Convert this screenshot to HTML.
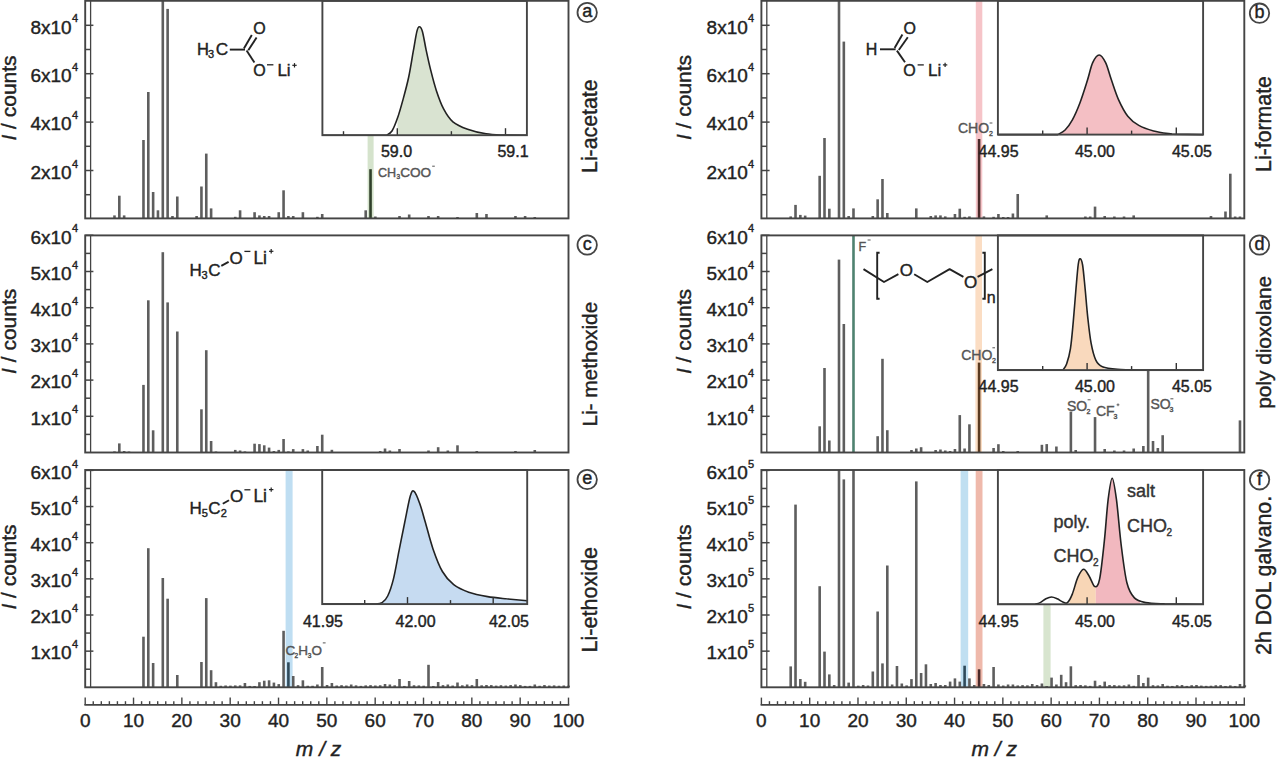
<!DOCTYPE html>
<html><head><meta charset="utf-8"><style>
html,body{margin:0;padding:0;background:#fff;overflow:hidden;}
svg{display:block;}
</style></head><body>
<svg width="1280" height="759" viewBox="0 0 1280 759" font-family="'Liberation Sans', sans-serif">
<g stroke-linecap="butt"><style>text{stroke:currentColor;stroke-width:0.4;paint-order:stroke}</style>
<rect x="0" y="0" width="1280" height="759" fill="#fff"/>
<rect x="367.6" y="0.8" width="6" height="217.6" fill="#d5e3cc"/>
<rect x="975.8" y="0.8" width="6.5" height="217.6" fill="#f6c4c8"/>
<rect x="975.4" y="235.4" width="6.6" height="217.1" fill="#fbddc3"/>
<rect x="285.6" y="470" width="7" height="217.3" fill="#bfdef2"/>
<rect x="960.6" y="470" width="7.6" height="217.3" fill="#c0dff1"/>
<rect x="975.7" y="470" width="6.8" height="217.3" fill="#efb9ab"/>
<rect x="1043.4" y="470" width="7.2" height="217.3" fill="#d8e5cf"/>
<rect x="113.19" y="215.4" width="2.6" height="3" fill="#5e5e5e"/>
<rect x="118.02" y="195.7" width="2.6" height="22.7" fill="#5e5e5e"/>
<rect x="122.85" y="215.4" width="2.6" height="3" fill="#5e5e5e"/>
<rect x="142.17" y="140" width="2.6" height="78.4" fill="#5e5e5e"/>
<rect x="147" y="92" width="2.6" height="126.4" fill="#5e5e5e"/>
<rect x="151.83" y="192" width="2.6" height="26.4" fill="#5e5e5e"/>
<rect x="156.66" y="210.3" width="2.6" height="8.1" fill="#5e5e5e"/>
<rect x="161.5" y="0.8" width="2.6" height="217.6" fill="#5e5e5e"/>
<rect x="166.33" y="8.9" width="2.6" height="209.5" fill="#5e5e5e"/>
<rect x="171.16" y="216" width="2.6" height="2.4" fill="#5e5e5e"/>
<rect x="175.99" y="196.5" width="2.6" height="21.9" fill="#5e5e5e"/>
<rect x="195.31" y="216" width="2.6" height="2.4" fill="#5e5e5e"/>
<rect x="200.14" y="186.5" width="2.6" height="31.9" fill="#5e5e5e"/>
<rect x="204.97" y="153.6" width="2.6" height="64.8" fill="#5e5e5e"/>
<rect x="209.81" y="208.4" width="2.6" height="10" fill="#5e5e5e"/>
<rect x="233.96" y="216.8" width="2.6" height="1.6" fill="#5e5e5e"/>
<rect x="238.79" y="210.3" width="2.6" height="8.1" fill="#5e5e5e"/>
<rect x="253.28" y="212.2" width="2.6" height="6.2" fill="#5e5e5e"/>
<rect x="258.12" y="215.4" width="2.6" height="3" fill="#5e5e5e"/>
<rect x="262.95" y="216" width="2.6" height="2.4" fill="#5e5e5e"/>
<rect x="267.78" y="216" width="2.6" height="2.4" fill="#5e5e5e"/>
<rect x="277.44" y="212.2" width="2.6" height="6.2" fill="#5e5e5e"/>
<rect x="282.27" y="190.3" width="2.6" height="28.1" fill="#5e5e5e"/>
<rect x="287.1" y="216" width="2.6" height="2.4" fill="#5e5e5e"/>
<rect x="291.93" y="216" width="2.6" height="2.4" fill="#5e5e5e"/>
<rect x="301.59" y="212.2" width="2.6" height="6.2" fill="#5e5e5e"/>
<rect x="316.09" y="216.8" width="2.6" height="1.6" fill="#5e5e5e"/>
<rect x="320.92" y="214" width="2.6" height="4.4" fill="#5e5e5e"/>
<rect x="364.4" y="210.3" width="2.6" height="8.1" fill="#5e5e5e"/>
<rect x="369.23" y="169.2" width="2.6" height="49.2" fill="#2f3f2a"/>
<rect x="374.06" y="216.5" width="2.6" height="1.9" fill="#5e5e5e"/>
<rect x="398.22" y="216" width="2.6" height="2.4" fill="#5e5e5e"/>
<rect x="407.88" y="214.5" width="2.6" height="3.9" fill="#5e5e5e"/>
<rect x="427.2" y="216" width="2.6" height="2.4" fill="#5e5e5e"/>
<rect x="436.86" y="216" width="2.6" height="2.4" fill="#5e5e5e"/>
<rect x="456.19" y="217" width="2.6" height="1.4" fill="#5e5e5e"/>
<rect x="475.51" y="213" width="2.6" height="5.4" fill="#5e5e5e"/>
<rect x="485.17" y="214" width="2.6" height="4.4" fill="#5e5e5e"/>
<rect x="514.16" y="216" width="2.6" height="2.4" fill="#5e5e5e"/>
<rect x="523.82" y="216" width="2.6" height="2.4" fill="#5e5e5e"/>
<rect x="533.48" y="217" width="2.6" height="1.4" fill="#5e5e5e"/>
<rect x="789.39" y="216.4" width="2.6" height="2" fill="#5e5e5e"/>
<rect x="794.22" y="204.9" width="2.6" height="13.5" fill="#5e5e5e"/>
<rect x="799.05" y="214.9" width="2.6" height="3.5" fill="#5e5e5e"/>
<rect x="803.88" y="215.6" width="2.6" height="2.8" fill="#5e5e5e"/>
<rect x="818.37" y="175.8" width="2.6" height="42.6" fill="#5e5e5e"/>
<rect x="823.2" y="138" width="2.6" height="80.4" fill="#5e5e5e"/>
<rect x="828.03" y="208.7" width="2.6" height="9.7" fill="#5e5e5e"/>
<rect x="837.7" y="0.8" width="2.6" height="217.6" fill="#5e5e5e"/>
<rect x="842.53" y="41.6" width="2.6" height="176.8" fill="#5e5e5e"/>
<rect x="847.36" y="216" width="2.6" height="2.4" fill="#5e5e5e"/>
<rect x="852.19" y="208.4" width="2.6" height="10" fill="#5e5e5e"/>
<rect x="871.51" y="216" width="2.6" height="2.4" fill="#5e5e5e"/>
<rect x="876.34" y="199.3" width="2.6" height="19.1" fill="#5e5e5e"/>
<rect x="881.17" y="179" width="2.6" height="39.4" fill="#5e5e5e"/>
<rect x="886.01" y="213" width="2.6" height="5.4" fill="#5e5e5e"/>
<rect x="914.99" y="208.4" width="2.6" height="10" fill="#5e5e5e"/>
<rect x="929.49" y="216" width="2.6" height="2.4" fill="#5e5e5e"/>
<rect x="934.32" y="215.4" width="2.6" height="3" fill="#5e5e5e"/>
<rect x="939.15" y="215.4" width="2.6" height="3" fill="#5e5e5e"/>
<rect x="943.98" y="216.4" width="2.6" height="2" fill="#5e5e5e"/>
<rect x="953.64" y="214" width="2.6" height="4.4" fill="#5e5e5e"/>
<rect x="958.47" y="208.7" width="2.6" height="9.7" fill="#5e5e5e"/>
<rect x="963.3" y="216.8" width="2.6" height="1.6" fill="#5e5e5e"/>
<rect x="968.13" y="216.4" width="2.6" height="2" fill="#5e5e5e"/>
<rect x="977.79" y="139" width="2.6" height="79.4" fill="#4a2a2a"/>
<rect x="982.63" y="216.4" width="2.6" height="2" fill="#5e5e5e"/>
<rect x="992.29" y="216.8" width="2.6" height="1.6" fill="#5e5e5e"/>
<rect x="997.12" y="214" width="2.6" height="4.4" fill="#5e5e5e"/>
<rect x="1001.95" y="217" width="2.6" height="1.4" fill="#5e5e5e"/>
<rect x="1006.78" y="217" width="2.6" height="1.4" fill="#5e5e5e"/>
<rect x="1011.61" y="213.5" width="2.6" height="4.9" fill="#5e5e5e"/>
<rect x="1016.44" y="194" width="2.6" height="24.4" fill="#5e5e5e"/>
<rect x="1045.43" y="215.4" width="2.6" height="3" fill="#5e5e5e"/>
<rect x="1084.08" y="216.5" width="2.6" height="1.9" fill="#5e5e5e"/>
<rect x="1088.91" y="216.5" width="2.6" height="1.9" fill="#5e5e5e"/>
<rect x="1093.74" y="206.6" width="2.6" height="11.8" fill="#5e5e5e"/>
<rect x="1103.4" y="216" width="2.6" height="2.4" fill="#5e5e5e"/>
<rect x="1113.06" y="216.5" width="2.6" height="1.9" fill="#5e5e5e"/>
<rect x="1122.73" y="216.5" width="2.6" height="1.9" fill="#5e5e5e"/>
<rect x="1132.39" y="215.4" width="2.6" height="3" fill="#5e5e5e"/>
<rect x="1209.68" y="216" width="2.6" height="2.4" fill="#5e5e5e"/>
<rect x="1224.18" y="211.5" width="2.6" height="6.9" fill="#5e5e5e"/>
<rect x="1229.01" y="173.7" width="2.6" height="44.7" fill="#5e5e5e"/>
<rect x="1233.84" y="216.5" width="2.6" height="1.9" fill="#5e5e5e"/>
<rect x="1238.67" y="216.5" width="2.6" height="1.9" fill="#5e5e5e"/>
<rect x="113.19" y="451.4" width="2.6" height="1.1" fill="#5e5e5e"/>
<rect x="118.02" y="443.4" width="2.6" height="9.1" fill="#5e5e5e"/>
<rect x="122.85" y="451" width="2.6" height="1.5" fill="#5e5e5e"/>
<rect x="127.68" y="451.5" width="2.6" height="1" fill="#5e5e5e"/>
<rect x="142.17" y="384.9" width="2.6" height="67.6" fill="#5e5e5e"/>
<rect x="147" y="300.3" width="2.6" height="152.2" fill="#5e5e5e"/>
<rect x="151.83" y="430.3" width="2.6" height="22.2" fill="#5e5e5e"/>
<rect x="161.5" y="252.2" width="2.6" height="200.3" fill="#5e5e5e"/>
<rect x="166.33" y="302.4" width="2.6" height="150.1" fill="#5e5e5e"/>
<rect x="175.99" y="331.5" width="2.6" height="121" fill="#5e5e5e"/>
<rect x="200.14" y="409.3" width="2.6" height="43.2" fill="#5e5e5e"/>
<rect x="204.97" y="350.2" width="2.6" height="102.3" fill="#5e5e5e"/>
<rect x="209.81" y="441" width="2.6" height="11.5" fill="#5e5e5e"/>
<rect x="214.64" y="451.5" width="2.6" height="1" fill="#5e5e5e"/>
<rect x="233.96" y="449.9" width="2.6" height="2.6" fill="#5e5e5e"/>
<rect x="238.79" y="450.5" width="2.6" height="2" fill="#5e5e5e"/>
<rect x="243.62" y="451.4" width="2.6" height="1.1" fill="#5e5e5e"/>
<rect x="253.28" y="443.7" width="2.6" height="8.8" fill="#5e5e5e"/>
<rect x="258.12" y="444.1" width="2.6" height="8.4" fill="#5e5e5e"/>
<rect x="262.95" y="445.3" width="2.6" height="7.2" fill="#5e5e5e"/>
<rect x="267.78" y="447.6" width="2.6" height="4.9" fill="#5e5e5e"/>
<rect x="272.61" y="451" width="2.6" height="1.5" fill="#5e5e5e"/>
<rect x="277.44" y="449.9" width="2.6" height="2.6" fill="#5e5e5e"/>
<rect x="282.27" y="439" width="2.6" height="13.5" fill="#5e5e5e"/>
<rect x="287.1" y="451.4" width="2.6" height="1.1" fill="#5e5e5e"/>
<rect x="291.93" y="449.1" width="2.6" height="3.4" fill="#5e5e5e"/>
<rect x="301.59" y="449.1" width="2.6" height="3.4" fill="#5e5e5e"/>
<rect x="306.43" y="450.5" width="2.6" height="2" fill="#5e5e5e"/>
<rect x="316.09" y="446" width="2.6" height="6.5" fill="#5e5e5e"/>
<rect x="320.92" y="434.7" width="2.6" height="17.8" fill="#5e5e5e"/>
<rect x="330.58" y="449.8" width="2.6" height="2.7" fill="#5e5e5e"/>
<rect x="378.89" y="451" width="2.6" height="1.5" fill="#5e5e5e"/>
<rect x="383.72" y="448.5" width="2.6" height="4" fill="#5e5e5e"/>
<rect x="388.55" y="450.5" width="2.6" height="2" fill="#5e5e5e"/>
<rect x="398.22" y="449" width="2.6" height="3.5" fill="#5e5e5e"/>
<rect x="427.2" y="450.5" width="2.6" height="2" fill="#5e5e5e"/>
<rect x="436.86" y="447.2" width="2.6" height="5.3" fill="#5e5e5e"/>
<rect x="446.53" y="450.5" width="2.6" height="2" fill="#5e5e5e"/>
<rect x="456.19" y="445.3" width="2.6" height="7.2" fill="#5e5e5e"/>
<rect x="475.51" y="451" width="2.6" height="1.5" fill="#5e5e5e"/>
<rect x="514.16" y="451" width="2.6" height="1.5" fill="#5e5e5e"/>
<rect x="533.48" y="450" width="2.6" height="2.5" fill="#5e5e5e"/>
<rect x="818.37" y="426.3" width="2.6" height="26.2" fill="#5e5e5e"/>
<rect x="823.2" y="368" width="2.6" height="84.5" fill="#5e5e5e"/>
<rect x="828.03" y="440.5" width="2.6" height="12" fill="#5e5e5e"/>
<rect x="837.7" y="259.6" width="2.6" height="192.9" fill="#5e5e5e"/>
<rect x="842.53" y="324" width="2.6" height="128.5" fill="#5e5e5e"/>
<rect x="852.19" y="235.4" width="2.6" height="217.1" fill="#4f8270"/>
<rect x="876.34" y="436.2" width="2.6" height="16.3" fill="#5e5e5e"/>
<rect x="881.17" y="358.8" width="2.6" height="93.7" fill="#5e5e5e"/>
<rect x="886.01" y="430.2" width="2.6" height="22.3" fill="#5e5e5e"/>
<rect x="910.16" y="450" width="2.6" height="2.5" fill="#5e5e5e"/>
<rect x="914.99" y="448.5" width="2.6" height="4" fill="#5e5e5e"/>
<rect x="919.82" y="447.2" width="2.6" height="5.3" fill="#5e5e5e"/>
<rect x="934.32" y="450" width="2.6" height="2.5" fill="#5e5e5e"/>
<rect x="939.15" y="449.5" width="2.6" height="3" fill="#5e5e5e"/>
<rect x="943.98" y="450.5" width="2.6" height="2" fill="#5e5e5e"/>
<rect x="948.81" y="451" width="2.6" height="1.5" fill="#5e5e5e"/>
<rect x="953.64" y="449" width="2.6" height="3.5" fill="#5e5e5e"/>
<rect x="958.47" y="415.1" width="2.6" height="37.4" fill="#5e5e5e"/>
<rect x="963.3" y="448.5" width="2.6" height="4" fill="#5e5e5e"/>
<rect x="968.13" y="424.3" width="2.6" height="28.2" fill="#5e5e5e"/>
<rect x="977.79" y="362.6" width="2.6" height="89.9" fill="#5a3a20"/>
<rect x="992.29" y="448" width="2.6" height="4.5" fill="#5e5e5e"/>
<rect x="997.12" y="444.2" width="2.6" height="8.3" fill="#5e5e5e"/>
<rect x="1001.95" y="451" width="2.6" height="1.5" fill="#5e5e5e"/>
<rect x="1016.44" y="451" width="2.6" height="1.5" fill="#5e5e5e"/>
<rect x="1040.6" y="444.8" width="2.6" height="7.7" fill="#5e5e5e"/>
<rect x="1045.43" y="444.1" width="2.6" height="8.4" fill="#5e5e5e"/>
<rect x="1055.09" y="446.5" width="2.6" height="6" fill="#5e5e5e"/>
<rect x="1069.58" y="411.6" width="2.6" height="40.9" fill="#5e5e5e"/>
<rect x="1074.41" y="450" width="2.6" height="2.5" fill="#5e5e5e"/>
<rect x="1093.74" y="417.1" width="2.6" height="35.4" fill="#5e5e5e"/>
<rect x="1103.4" y="449" width="2.6" height="3.5" fill="#5e5e5e"/>
<rect x="1113.06" y="450.5" width="2.6" height="2" fill="#5e5e5e"/>
<rect x="1122.73" y="450.5" width="2.6" height="2" fill="#5e5e5e"/>
<rect x="1132.39" y="448.5" width="2.6" height="4" fill="#5e5e5e"/>
<rect x="1142.05" y="446" width="2.6" height="6.5" fill="#5e5e5e"/>
<rect x="1146.88" y="235.4" width="2.6" height="217.1" fill="#5e5e5e"/>
<rect x="1151.71" y="441" width="2.6" height="11.5" fill="#5e5e5e"/>
<rect x="1156.54" y="448" width="2.6" height="4.5" fill="#5e5e5e"/>
<rect x="1161.37" y="435.2" width="2.6" height="17.3" fill="#5e5e5e"/>
<rect x="1238.67" y="420.4" width="2.6" height="32.1" fill="#5e5e5e"/>
<rect x="142.17" y="636.7" width="2.6" height="50.6" fill="#5e5e5e"/>
<rect x="147" y="548.2" width="2.6" height="139.1" fill="#5e5e5e"/>
<rect x="151.83" y="663" width="2.6" height="24.3" fill="#5e5e5e"/>
<rect x="161.5" y="578" width="2.6" height="109.3" fill="#5e5e5e"/>
<rect x="166.33" y="598.7" width="2.6" height="88.6" fill="#5e5e5e"/>
<rect x="175.99" y="675" width="2.6" height="12.3" fill="#5e5e5e"/>
<rect x="200.14" y="662" width="2.6" height="25.3" fill="#5e5e5e"/>
<rect x="204.97" y="598.1" width="2.6" height="89.2" fill="#5e5e5e"/>
<rect x="209.81" y="670.2" width="2.6" height="17.1" fill="#5e5e5e"/>
<rect x="214.64" y="682.2" width="2.6" height="5.1" fill="#5e5e5e"/>
<rect x="243.62" y="683" width="2.6" height="4.3" fill="#5e5e5e"/>
<rect x="258.12" y="682.2" width="2.6" height="5.1" fill="#5e5e5e"/>
<rect x="262.95" y="680.7" width="2.6" height="6.6" fill="#5e5e5e"/>
<rect x="267.78" y="680.3" width="2.6" height="7" fill="#5e5e5e"/>
<rect x="272.61" y="682.6" width="2.6" height="4.7" fill="#5e5e5e"/>
<rect x="277.44" y="684.1" width="2.6" height="3.2" fill="#5e5e5e"/>
<rect x="282.27" y="630.8" width="2.6" height="56.5" fill="#5e5e5e"/>
<rect x="287.1" y="662.3" width="2.6" height="25" fill="#2f4a5a"/>
<rect x="291.93" y="676" width="2.6" height="11.3" fill="#5e5e5e"/>
<rect x="301.59" y="680.3" width="2.6" height="7" fill="#5e5e5e"/>
<rect x="316.09" y="684.5" width="2.6" height="2.8" fill="#5e5e5e"/>
<rect x="320.92" y="667" width="2.6" height="20.3" fill="#5e5e5e"/>
<rect x="330.58" y="683" width="2.6" height="4.3" fill="#5e5e5e"/>
<rect x="349.91" y="684.5" width="2.6" height="2.8" fill="#5e5e5e"/>
<rect x="383.72" y="684" width="2.6" height="3.3" fill="#5e5e5e"/>
<rect x="388.55" y="684.5" width="2.6" height="2.8" fill="#5e5e5e"/>
<rect x="398.22" y="679" width="2.6" height="8.3" fill="#5e5e5e"/>
<rect x="407.88" y="681" width="2.6" height="6.3" fill="#5e5e5e"/>
<rect x="427.2" y="664.8" width="2.6" height="22.5" fill="#5e5e5e"/>
<rect x="436.86" y="682" width="2.6" height="5.3" fill="#5e5e5e"/>
<rect x="446.53" y="684.5" width="2.6" height="2.8" fill="#5e5e5e"/>
<rect x="456.19" y="682.5" width="2.6" height="4.8" fill="#5e5e5e"/>
<rect x="465.85" y="684.5" width="2.6" height="2.8" fill="#5e5e5e"/>
<rect x="475.51" y="679" width="2.6" height="8.3" fill="#5e5e5e"/>
<rect x="485.17" y="685" width="2.6" height="2.3" fill="#5e5e5e"/>
<rect x="514.16" y="684.5" width="2.6" height="2.8" fill="#5e5e5e"/>
<rect x="533.48" y="684.5" width="2.6" height="2.8" fill="#5e5e5e"/>
<rect x="219.47" y="685.76" width="2.6" height="1.54" fill="#5e5e5e"/>
<rect x="224.3" y="685.46" width="2.6" height="1.84" fill="#5e5e5e"/>
<rect x="229.13" y="685.63" width="2.6" height="1.67" fill="#5e5e5e"/>
<rect x="233.96" y="685.4" width="2.6" height="1.9" fill="#5e5e5e"/>
<rect x="238.79" y="685.37" width="2.6" height="1.93" fill="#5e5e5e"/>
<rect x="248.45" y="685.93" width="2.6" height="1.37" fill="#5e5e5e"/>
<rect x="253.28" y="685.99" width="2.6" height="1.31" fill="#5e5e5e"/>
<rect x="296.76" y="685.16" width="2.6" height="2.14" fill="#5e5e5e"/>
<rect x="306.43" y="685.74" width="2.6" height="1.56" fill="#5e5e5e"/>
<rect x="311.26" y="685.77" width="2.6" height="1.53" fill="#5e5e5e"/>
<rect x="325.75" y="685" width="2.6" height="2.3" fill="#5e5e5e"/>
<rect x="335.41" y="685.53" width="2.6" height="1.77" fill="#5e5e5e"/>
<rect x="340.24" y="685.16" width="2.6" height="2.14" fill="#5e5e5e"/>
<rect x="345.07" y="685.52" width="2.6" height="1.78" fill="#5e5e5e"/>
<rect x="354.74" y="685.36" width="2.6" height="1.94" fill="#5e5e5e"/>
<rect x="359.57" y="685.85" width="2.6" height="1.45" fill="#5e5e5e"/>
<rect x="364.4" y="685.37" width="2.6" height="1.93" fill="#5e5e5e"/>
<rect x="369.23" y="685.13" width="2.6" height="2.17" fill="#5e5e5e"/>
<rect x="374.06" y="685.48" width="2.6" height="1.82" fill="#5e5e5e"/>
<rect x="378.89" y="685.26" width="2.6" height="2.04" fill="#5e5e5e"/>
<rect x="393.38" y="685.33" width="2.6" height="1.97" fill="#5e5e5e"/>
<rect x="403.05" y="685.94" width="2.6" height="1.36" fill="#5e5e5e"/>
<rect x="412.71" y="685.24" width="2.6" height="2.06" fill="#5e5e5e"/>
<rect x="417.54" y="685.41" width="2.6" height="1.89" fill="#5e5e5e"/>
<rect x="422.37" y="685.7" width="2.6" height="1.6" fill="#5e5e5e"/>
<rect x="432.03" y="685.97" width="2.6" height="1.33" fill="#5e5e5e"/>
<rect x="441.69" y="685.13" width="2.6" height="2.17" fill="#5e5e5e"/>
<rect x="451.36" y="685.53" width="2.6" height="1.77" fill="#5e5e5e"/>
<rect x="461.02" y="685.28" width="2.6" height="2.02" fill="#5e5e5e"/>
<rect x="470.68" y="685.12" width="2.6" height="2.18" fill="#5e5e5e"/>
<rect x="480.34" y="685.29" width="2.6" height="2.01" fill="#5e5e5e"/>
<rect x="490" y="685.08" width="2.6" height="2.22" fill="#5e5e5e"/>
<rect x="494.84" y="685.61" width="2.6" height="1.69" fill="#5e5e5e"/>
<rect x="499.67" y="685.2" width="2.6" height="2.1" fill="#5e5e5e"/>
<rect x="504.5" y="685.56" width="2.6" height="1.74" fill="#5e5e5e"/>
<rect x="509.33" y="685.06" width="2.6" height="2.24" fill="#5e5e5e"/>
<rect x="518.99" y="685.12" width="2.6" height="2.18" fill="#5e5e5e"/>
<rect x="523.82" y="685.9" width="2.6" height="1.4" fill="#5e5e5e"/>
<rect x="528.65" y="685.86" width="2.6" height="1.44" fill="#5e5e5e"/>
<rect x="538.31" y="685.78" width="2.6" height="1.52" fill="#5e5e5e"/>
<rect x="543.15" y="685.03" width="2.6" height="2.27" fill="#5e5e5e"/>
<rect x="547.98" y="685.56" width="2.6" height="1.74" fill="#5e5e5e"/>
<rect x="552.81" y="685.37" width="2.6" height="1.93" fill="#5e5e5e"/>
<rect x="557.64" y="685.7" width="2.6" height="1.6" fill="#5e5e5e"/>
<rect x="562.47" y="685.49" width="2.6" height="1.81" fill="#5e5e5e"/>
<rect x="567.3" y="685.61" width="2.6" height="1.69" fill="#5e5e5e"/>
<rect x="789.39" y="666.4" width="2.6" height="20.9" fill="#5e5e5e"/>
<rect x="794.22" y="504.6" width="2.6" height="182.7" fill="#5e5e5e"/>
<rect x="799.05" y="679" width="2.6" height="8.3" fill="#5e5e5e"/>
<rect x="803.88" y="681.8" width="2.6" height="5.5" fill="#5e5e5e"/>
<rect x="818.37" y="586.2" width="2.6" height="101.1" fill="#5e5e5e"/>
<rect x="823.2" y="651.6" width="2.6" height="35.7" fill="#5e5e5e"/>
<rect x="828.03" y="674.4" width="2.6" height="12.9" fill="#5e5e5e"/>
<rect x="832.87" y="685" width="2.6" height="2.3" fill="#5e5e5e"/>
<rect x="837.7" y="470" width="2.6" height="217.3" fill="#5e5e5e"/>
<rect x="842.53" y="479.4" width="2.6" height="207.9" fill="#5e5e5e"/>
<rect x="847.36" y="682.6" width="2.6" height="4.7" fill="#5e5e5e"/>
<rect x="852.19" y="470" width="2.6" height="217.3" fill="#5e5e5e"/>
<rect x="861.85" y="685" width="2.6" height="2.3" fill="#5e5e5e"/>
<rect x="866.68" y="685.5" width="2.6" height="1.8" fill="#5e5e5e"/>
<rect x="871.51" y="671.5" width="2.6" height="15.8" fill="#5e5e5e"/>
<rect x="876.34" y="611.5" width="2.6" height="75.8" fill="#5e5e5e"/>
<rect x="881.17" y="663.4" width="2.6" height="23.9" fill="#5e5e5e"/>
<rect x="886.01" y="565.5" width="2.6" height="121.8" fill="#5e5e5e"/>
<rect x="890.84" y="684.5" width="2.6" height="2.8" fill="#5e5e5e"/>
<rect x="895.67" y="666" width="2.6" height="21.3" fill="#5e5e5e"/>
<rect x="900.5" y="683.5" width="2.6" height="3.8" fill="#5e5e5e"/>
<rect x="910.16" y="679.1" width="2.6" height="8.2" fill="#5e5e5e"/>
<rect x="914.99" y="481.4" width="2.6" height="205.9" fill="#5e5e5e"/>
<rect x="919.82" y="673" width="2.6" height="14.3" fill="#5e5e5e"/>
<rect x="924.65" y="664.3" width="2.6" height="23" fill="#5e5e5e"/>
<rect x="929.49" y="684" width="2.6" height="3.3" fill="#5e5e5e"/>
<rect x="934.32" y="683" width="2.6" height="4.3" fill="#5e5e5e"/>
<rect x="939.15" y="685" width="2.6" height="2.3" fill="#5e5e5e"/>
<rect x="943.98" y="685" width="2.6" height="2.3" fill="#5e5e5e"/>
<rect x="948.81" y="681.6" width="2.6" height="5.7" fill="#5e5e5e"/>
<rect x="953.64" y="678.4" width="2.6" height="8.9" fill="#5e5e5e"/>
<rect x="958.47" y="681.6" width="2.6" height="5.7" fill="#5e5e5e"/>
<rect x="963.3" y="665.7" width="2.6" height="21.6" fill="#2f4a5a"/>
<rect x="968.13" y="678.4" width="2.6" height="8.9" fill="#5e5e5e"/>
<rect x="972.96" y="685" width="2.6" height="2.3" fill="#5e5e5e"/>
<rect x="977.79" y="669.3" width="2.6" height="18" fill="#4a2a2a"/>
<rect x="982.63" y="684" width="2.6" height="3.3" fill="#5e5e5e"/>
<rect x="987.46" y="685" width="2.6" height="2.3" fill="#5e5e5e"/>
<rect x="992.29" y="667" width="2.6" height="20.3" fill="#5e5e5e"/>
<rect x="997.12" y="684.5" width="2.6" height="2.8" fill="#5e5e5e"/>
<rect x="1001.95" y="685.5" width="2.6" height="1.8" fill="#5e5e5e"/>
<rect x="1006.78" y="684.5" width="2.6" height="2.8" fill="#5e5e5e"/>
<rect x="1011.61" y="684.5" width="2.6" height="2.8" fill="#5e5e5e"/>
<rect x="1030.94" y="684" width="2.6" height="3.3" fill="#5e5e5e"/>
<rect x="1040.6" y="683.5" width="2.6" height="3.8" fill="#5e5e5e"/>
<rect x="1045.43" y="686" width="2.6" height="1.3" fill="#5e5e5e"/>
<rect x="1050.26" y="677.6" width="2.6" height="9.7" fill="#5e5e5e"/>
<rect x="1055.09" y="684.5" width="2.6" height="2.8" fill="#5e5e5e"/>
<rect x="1059.92" y="674.8" width="2.6" height="12.5" fill="#5e5e5e"/>
<rect x="1064.75" y="682.2" width="2.6" height="5.1" fill="#5e5e5e"/>
<rect x="1069.58" y="666.3" width="2.6" height="21" fill="#5e5e5e"/>
<rect x="1093.74" y="680.7" width="2.6" height="6.6" fill="#5e5e5e"/>
<rect x="1103.4" y="681.6" width="2.6" height="5.7" fill="#5e5e5e"/>
<rect x="1127.56" y="684.5" width="2.6" height="2.8" fill="#5e5e5e"/>
<rect x="1137.22" y="675" width="2.6" height="12.3" fill="#5e5e5e"/>
<rect x="1142.05" y="683" width="2.6" height="4.3" fill="#5e5e5e"/>
<rect x="1146.88" y="677.6" width="2.6" height="9.7" fill="#5e5e5e"/>
<rect x="1161.37" y="684" width="2.6" height="3.3" fill="#5e5e5e"/>
<rect x="1195.19" y="685" width="2.6" height="2.3" fill="#5e5e5e"/>
<rect x="1238.67" y="684" width="2.6" height="3.3" fill="#5e5e5e"/>
<rect x="857.02" y="685.65" width="2.6" height="1.65" fill="#5e5e5e"/>
<rect x="905.33" y="685.41" width="2.6" height="1.89" fill="#5e5e5e"/>
<rect x="1016.44" y="685.42" width="2.6" height="1.88" fill="#5e5e5e"/>
<rect x="1021.27" y="685.1" width="2.6" height="2.2" fill="#5e5e5e"/>
<rect x="1026.11" y="685.32" width="2.6" height="1.98" fill="#5e5e5e"/>
<rect x="1035.77" y="685.07" width="2.6" height="2.23" fill="#5e5e5e"/>
<rect x="1074.41" y="685.14" width="2.6" height="2.16" fill="#5e5e5e"/>
<rect x="1079.25" y="685.01" width="2.6" height="2.29" fill="#5e5e5e"/>
<rect x="1084.08" y="685.33" width="2.6" height="1.97" fill="#5e5e5e"/>
<rect x="1088.91" y="685.84" width="2.6" height="1.46" fill="#5e5e5e"/>
<rect x="1098.57" y="685.14" width="2.6" height="2.16" fill="#5e5e5e"/>
<rect x="1108.23" y="685.04" width="2.6" height="2.26" fill="#5e5e5e"/>
<rect x="1113.06" y="685.1" width="2.6" height="2.2" fill="#5e5e5e"/>
<rect x="1117.89" y="685.43" width="2.6" height="1.87" fill="#5e5e5e"/>
<rect x="1122.73" y="685.29" width="2.6" height="2.01" fill="#5e5e5e"/>
<rect x="1132.39" y="685.79" width="2.6" height="1.51" fill="#5e5e5e"/>
<rect x="1151.71" y="685.17" width="2.6" height="2.13" fill="#5e5e5e"/>
<rect x="1156.54" y="685.43" width="2.6" height="1.87" fill="#5e5e5e"/>
<rect x="1166.2" y="685.72" width="2.6" height="1.58" fill="#5e5e5e"/>
<rect x="1171.04" y="685.94" width="2.6" height="1.36" fill="#5e5e5e"/>
<rect x="1175.87" y="685.15" width="2.6" height="2.15" fill="#5e5e5e"/>
<rect x="1180.7" y="685.01" width="2.6" height="2.29" fill="#5e5e5e"/>
<rect x="1185.53" y="685.91" width="2.6" height="1.39" fill="#5e5e5e"/>
<rect x="1190.36" y="685.2" width="2.6" height="2.1" fill="#5e5e5e"/>
<rect x="1200.02" y="685.59" width="2.6" height="1.71" fill="#5e5e5e"/>
<rect x="1204.85" y="685.85" width="2.6" height="1.45" fill="#5e5e5e"/>
<rect x="1209.68" y="685.71" width="2.6" height="1.59" fill="#5e5e5e"/>
<rect x="1214.51" y="685.23" width="2.6" height="2.07" fill="#5e5e5e"/>
<rect x="1219.35" y="685.13" width="2.6" height="2.17" fill="#5e5e5e"/>
<rect x="1224.18" y="685.96" width="2.6" height="1.34" fill="#5e5e5e"/>
<rect x="1229.01" y="685.39" width="2.6" height="1.91" fill="#5e5e5e"/>
<rect x="1233.84" y="685.96" width="2.6" height="1.34" fill="#5e5e5e"/>
<rect x="1243.5" y="685.28" width="2.6" height="2.02" fill="#5e5e5e"/>
<rect x="322.4" y="0.8" width="204.5" height="134.4" fill="#fff"/>
<clipPath id="c322_0_0"><rect x="397.5" y="0.8" width="102.5" height="134.4"/></clipPath>
<path d="M322.4,135.2 L386.4,135.2 C387.33,134.5 390.15,133.85 392,131 C393.85,128.15 395.67,123.33 397.5,118.1 C399.33,112.87 401.15,106.37 403,99.6 C404.85,92.83 406.9,85.48 408.6,77.5 C410.3,69.52 411.82,59.38 413.2,51.7 C414.58,44.02 415.88,35.55 416.9,31.4 C417.92,27.25 418.38,26.8 419.3,26.8 C420.22,26.8 421.27,27.57 422.4,31.4 C423.53,35.23 424.72,43.35 426.1,49.8 C427.48,56.25 429,63.33 430.7,70.1 C432.4,76.87 434.15,83.93 436.3,90.4 C438.45,96.87 440.83,103.67 443.6,108.9 C446.37,114.13 448.9,118.42 452.9,121.8 C456.9,125.18 462.07,127.2 467.6,129.2 C473.13,131.2 479.95,132.82 486.1,133.8 C492.25,134.78 501.43,134.88 504.5,135.1 L526.9,135.2 L526.9,135.2 L322.4,135.2 Z" fill="#d9e3d1" clip-path="url(#c322_0_0)"/>
<path d="M322.4,135.2 L386.4,135.2 C387.33,134.5 390.15,133.85 392,131 C393.85,128.15 395.67,123.33 397.5,118.1 C399.33,112.87 401.15,106.37 403,99.6 C404.85,92.83 406.9,85.48 408.6,77.5 C410.3,69.52 411.82,59.38 413.2,51.7 C414.58,44.02 415.88,35.55 416.9,31.4 C417.92,27.25 418.38,26.8 419.3,26.8 C420.22,26.8 421.27,27.57 422.4,31.4 C423.53,35.23 424.72,43.35 426.1,49.8 C427.48,56.25 429,63.33 430.7,70.1 C432.4,76.87 434.15,83.93 436.3,90.4 C438.45,96.87 440.83,103.67 443.6,108.9 C446.37,114.13 448.9,118.42 452.9,121.8 C456.9,125.18 462.07,127.2 467.6,129.2 C473.13,131.2 479.95,132.82 486.1,133.8 C492.25,134.78 501.43,134.88 504.5,135.1 L526.9,135.2" fill="none" stroke="#222" stroke-width="1.6" stroke-linejoin="round"/>
<line x1="343.5" y1="135.2" x2="343.5" y2="131.2" stroke="#333" stroke-width="1.4" />
<line x1="397.3" y1="135.2" x2="397.3" y2="128.2" stroke="#333" stroke-width="1.4" />
<line x1="451.4" y1="135.2" x2="451.4" y2="131.2" stroke="#333" stroke-width="1.4" />
<line x1="505.5" y1="135.2" x2="505.5" y2="128.2" stroke="#333" stroke-width="1.4" />
<rect x="322.4" y="0.8" width="204.5" height="134.4" fill="none" stroke="#444" stroke-width="1.9"/>
<text x="396.5" y="157" font-size="16" text-anchor="middle" fill="#222" color="#222" >59.0</text>
<text x="513" y="157" font-size="16" text-anchor="middle" fill="#222" color="#222" >59.1</text>
<rect x="997.9" y="0.8" width="205.2" height="133.8" fill="#fff"/>
<clipPath id="c997_0_0"><rect x="1057" y="0.8" width="133" height="133.8"/></clipPath>
<path d="M997.9,134.6 L1057.7,134.6 C1058.93,133.83 1062.65,132.45 1065.1,130 C1067.55,127.55 1069.95,124.35 1072.4,119.9 C1074.85,115.45 1077.33,109.77 1079.8,103.3 C1082.27,96.83 1085.05,87.87 1087.2,81.1 C1089.35,74.33 1090.7,67.05 1092.7,62.7 C1094.7,58.35 1097.05,55 1099.2,55 C1101.35,55 1103.6,58.65 1105.6,62.7 C1107.6,66.75 1109.05,73.15 1111.2,79.3 C1113.35,85.45 1115.73,93.45 1118.5,99.6 C1121.27,105.75 1124.42,111.9 1127.8,116.2 C1131.18,120.5 1134.5,122.95 1138.8,125.4 C1143.1,127.85 1148.07,129.45 1153.6,130.9 C1159.13,132.35 1168.93,133.57 1172,134.1 L1203.1,134.6 L1203.1,134.6 L997.9,134.6 Z" fill="#f4bfc4" clip-path="url(#c997_0_0)"/>
<path d="M997.9,134.6 L1057.7,134.6 C1058.93,133.83 1062.65,132.45 1065.1,130 C1067.55,127.55 1069.95,124.35 1072.4,119.9 C1074.85,115.45 1077.33,109.77 1079.8,103.3 C1082.27,96.83 1085.05,87.87 1087.2,81.1 C1089.35,74.33 1090.7,67.05 1092.7,62.7 C1094.7,58.35 1097.05,55 1099.2,55 C1101.35,55 1103.6,58.65 1105.6,62.7 C1107.6,66.75 1109.05,73.15 1111.2,79.3 C1113.35,85.45 1115.73,93.45 1118.5,99.6 C1121.27,105.75 1124.42,111.9 1127.8,116.2 C1131.18,120.5 1134.5,122.95 1138.8,125.4 C1143.1,127.85 1148.07,129.45 1153.6,130.9 C1159.13,132.35 1168.93,133.57 1172,134.1 L1203.1,134.6" fill="none" stroke="#222" stroke-width="1.6" stroke-linejoin="round"/>
<line x1="1042.7" y1="134.6" x2="1042.7" y2="130.6" stroke="#333" stroke-width="1.4" />
<line x1="1087.1" y1="134.6" x2="1087.1" y2="127.6" stroke="#333" stroke-width="1.4" />
<line x1="1131.6" y1="134.6" x2="1131.6" y2="130.6" stroke="#333" stroke-width="1.4" />
<line x1="1176.3" y1="134.6" x2="1176.3" y2="127.6" stroke="#333" stroke-width="1.4" />
<rect x="997.9" y="0.8" width="205.2" height="133.8" fill="none" stroke="#444" stroke-width="1.9"/>
<text x="998.6" y="157" font-size="16" text-anchor="middle" fill="#222" color="#222" >44.95</text>
<text x="1095" y="157" font-size="16" text-anchor="middle" fill="#222" color="#222" >45.00</text>
<text x="1192" y="157" font-size="16" text-anchor="middle" fill="#222" color="#222" >45.05</text>
<rect x="997.9" y="235.4" width="205.2" height="134.7" fill="#fff"/>
<clipPath id="c997_235_0"><rect x="1064" y="235.4" width="40" height="134.7"/></clipPath>
<path d="M997.9,370.1 L1062.8,370.1 C1063.43,369.07 1065.33,367.45 1066.6,363.9 C1067.87,360.35 1069.3,355.72 1070.4,348.8 C1071.5,341.88 1072.27,332.45 1073.2,322.4 C1074.13,312.35 1075.15,298.23 1076,288.5 C1076.85,278.77 1077.6,268.95 1078.3,264 C1079,259.05 1079.48,258.63 1080.2,258.8 C1080.92,258.97 1081.78,260.05 1082.6,265 C1083.42,269.95 1084.25,279.87 1085.1,288.5 C1085.95,297.13 1086.7,307.68 1087.7,316.8 C1088.7,325.92 1089.75,335.98 1091.1,343.2 C1092.45,350.42 1093.92,356.18 1095.8,360.1 C1097.68,364.02 1098.78,365.18 1102.4,366.7 C1106.02,368.22 1110.28,368.63 1117.5,369.2 C1124.72,369.77 1141,369.95 1145.7,370.1 L1203.1,370.1 L1203.1,370.1 L997.9,370.1 Z" fill="#f9d9bd" clip-path="url(#c997_235_0)"/>
<path d="M997.9,370.1 L1062.8,370.1 C1063.43,369.07 1065.33,367.45 1066.6,363.9 C1067.87,360.35 1069.3,355.72 1070.4,348.8 C1071.5,341.88 1072.27,332.45 1073.2,322.4 C1074.13,312.35 1075.15,298.23 1076,288.5 C1076.85,278.77 1077.6,268.95 1078.3,264 C1079,259.05 1079.48,258.63 1080.2,258.8 C1080.92,258.97 1081.78,260.05 1082.6,265 C1083.42,269.95 1084.25,279.87 1085.1,288.5 C1085.95,297.13 1086.7,307.68 1087.7,316.8 C1088.7,325.92 1089.75,335.98 1091.1,343.2 C1092.45,350.42 1093.92,356.18 1095.8,360.1 C1097.68,364.02 1098.78,365.18 1102.4,366.7 C1106.02,368.22 1110.28,368.63 1117.5,369.2 C1124.72,369.77 1141,369.95 1145.7,370.1 L1203.1,370.1" fill="none" stroke="#222" stroke-width="1.6" stroke-linejoin="round"/>
<line x1="1042.7" y1="370.1" x2="1042.7" y2="366.1" stroke="#333" stroke-width="1.4" />
<line x1="1087.1" y1="370.1" x2="1087.1" y2="363.1" stroke="#333" stroke-width="1.4" />
<line x1="1131.6" y1="370.1" x2="1131.6" y2="366.1" stroke="#333" stroke-width="1.4" />
<line x1="1176.3" y1="370.1" x2="1176.3" y2="363.1" stroke="#333" stroke-width="1.4" />
<rect x="997.9" y="235.4" width="205.2" height="134.7" fill="none" stroke="#444" stroke-width="1.9"/>
<text x="998.6" y="392.3" font-size="16" text-anchor="middle" fill="#222" color="#222" >44.95</text>
<text x="1095" y="392.3" font-size="16" text-anchor="middle" fill="#222" color="#222" >45.00</text>
<text x="1192" y="392.3" font-size="16" text-anchor="middle" fill="#222" color="#222" >45.05</text>
<rect x="322.2" y="470" width="205" height="134.1" fill="#fff"/>
<clipPath id="c322_470_0"><rect x="382" y="470" width="145.2" height="134.1"/></clipPath>
<path d="M322.2,604.1 L374.5,604.1 C375.77,603.85 379.9,603.95 382.1,602.6 C384.3,601.25 385.82,599.92 387.7,596 C389.58,592.08 391.52,586.63 393.4,579.1 C395.28,571.57 397.12,560.23 399,550.8 C400.88,541.37 402.82,531.62 404.7,522.5 C406.58,513.38 408.73,501.28 410.3,496.1 C411.87,490.92 412.52,490.13 414.1,491.4 C415.68,492.67 417.92,498.52 419.8,503.7 C421.68,508.88 423.2,514.97 425.4,522.5 C427.6,530.03 430.17,540.73 433,548.9 C435.83,557.07 438.95,565.53 442.4,571.5 C445.85,577.47 449.32,581.25 453.7,584.7 C458.08,588.15 463.05,590.22 468.7,592.2 C474.35,594.18 481.32,595.5 487.6,596.6 C493.88,597.7 503.27,598.43 506.4,598.8 L527.2,600.7 L527.2,604.1 L322.2,604.1 Z" fill="#c6dbf1" clip-path="url(#c322_470_0)"/>
<path d="M322.2,604.1 L374.5,604.1 C375.77,603.85 379.9,603.95 382.1,602.6 C384.3,601.25 385.82,599.92 387.7,596 C389.58,592.08 391.52,586.63 393.4,579.1 C395.28,571.57 397.12,560.23 399,550.8 C400.88,541.37 402.82,531.62 404.7,522.5 C406.58,513.38 408.73,501.28 410.3,496.1 C411.87,490.92 412.52,490.13 414.1,491.4 C415.68,492.67 417.92,498.52 419.8,503.7 C421.68,508.88 423.2,514.97 425.4,522.5 C427.6,530.03 430.17,540.73 433,548.9 C435.83,557.07 438.95,565.53 442.4,571.5 C445.85,577.47 449.32,581.25 453.7,584.7 C458.08,588.15 463.05,590.22 468.7,592.2 C474.35,594.18 481.32,595.5 487.6,596.6 C493.88,597.7 503.27,598.43 506.4,598.8 L527.2,600.7" fill="none" stroke="#222" stroke-width="1.6" stroke-linejoin="round"/>
<line x1="364.7" y1="604.1" x2="364.7" y2="600.1" stroke="#333" stroke-width="1.4" />
<line x1="407.5" y1="604.1" x2="407.5" y2="597.1" stroke="#333" stroke-width="1.4" />
<line x1="450.5" y1="604.1" x2="450.5" y2="600.1" stroke="#333" stroke-width="1.4" />
<line x1="493.2" y1="604.1" x2="493.2" y2="597.1" stroke="#333" stroke-width="1.4" />
<rect x="322.2" y="470" width="205" height="134.1" fill="none" stroke="#444" stroke-width="1.9"/>
<text x="323" y="626.6" font-size="16" text-anchor="middle" fill="#222" color="#222" >41.95</text>
<text x="415.6" y="626.6" font-size="16" text-anchor="middle" fill="#222" color="#222" >42.00</text>
<text x="509" y="626.6" font-size="16" text-anchor="middle" fill="#222" color="#222" >42.05</text>
<rect x="997.9" y="470" width="205.2" height="134.3" fill="#fff"/>
<clipPath id="c997_470_0"><rect x="1069.4" y="470" width="26.4" height="134.3"/></clipPath>
<path d="M997.9,604.3 L1034.6,604.3 C1035.53,604.02 1038.32,603.52 1040.2,602.6 C1042.08,601.68 1044.02,599.73 1045.9,598.8 C1047.78,597.87 1049.62,597 1051.5,597 C1053.38,597 1055.32,597.97 1057.2,598.8 C1059.08,599.63 1061.08,601.37 1062.8,602 C1064.52,602.63 1065.92,603.92 1067.5,602.6 C1069.08,601.28 1070.57,598.33 1072.3,594.1 C1074.03,589.87 1076.02,581.33 1077.9,577.2 C1079.78,573.07 1081.72,569.47 1083.6,569.3 C1085.48,569.13 1087.32,573.32 1089.2,576.2 C1091.08,579.08 1093.17,586.12 1094.9,586.6 C1096.63,587.08 1098.03,586.63 1099.6,579.1 C1101.17,571.57 1102.88,554.6 1104.3,541.4 C1105.72,528.2 1106.78,510.43 1108.1,499.9 C1109.42,489.37 1110.8,478.2 1112.2,478.2 C1113.6,478.2 1115,488.75 1116.5,499.9 C1118,511.05 1119.47,531.28 1121.2,545.1 C1122.93,558.92 1124.7,574 1126.9,582.8 C1129.1,591.6 1131.27,594.6 1134.4,597.9 C1137.53,601.2 1140.67,601.6 1145.7,602.6 C1150.73,603.6 1161.45,603.68 1164.6,603.9 L1203.1,604.3 L1203.1,604.3 L997.9,604.3 Z" fill="#f8d6b6" clip-path="url(#c997_470_0)"/>
<clipPath id="c997_470_1"><rect x="1095.8" y="470" width="44.2" height="134.3"/></clipPath>
<path d="M997.9,604.3 L1034.6,604.3 C1035.53,604.02 1038.32,603.52 1040.2,602.6 C1042.08,601.68 1044.02,599.73 1045.9,598.8 C1047.78,597.87 1049.62,597 1051.5,597 C1053.38,597 1055.32,597.97 1057.2,598.8 C1059.08,599.63 1061.08,601.37 1062.8,602 C1064.52,602.63 1065.92,603.92 1067.5,602.6 C1069.08,601.28 1070.57,598.33 1072.3,594.1 C1074.03,589.87 1076.02,581.33 1077.9,577.2 C1079.78,573.07 1081.72,569.47 1083.6,569.3 C1085.48,569.13 1087.32,573.32 1089.2,576.2 C1091.08,579.08 1093.17,586.12 1094.9,586.6 C1096.63,587.08 1098.03,586.63 1099.6,579.1 C1101.17,571.57 1102.88,554.6 1104.3,541.4 C1105.72,528.2 1106.78,510.43 1108.1,499.9 C1109.42,489.37 1110.8,478.2 1112.2,478.2 C1113.6,478.2 1115,488.75 1116.5,499.9 C1118,511.05 1119.47,531.28 1121.2,545.1 C1122.93,558.92 1124.7,574 1126.9,582.8 C1129.1,591.6 1131.27,594.6 1134.4,597.9 C1137.53,601.2 1140.67,601.6 1145.7,602.6 C1150.73,603.6 1161.45,603.68 1164.6,603.9 L1203.1,604.3 L1203.1,604.3 L997.9,604.3 Z" fill="#f2b8bf" clip-path="url(#c997_470_1)"/>
<path d="M997.9,604.3 L1034.6,604.3 C1035.53,604.02 1038.32,603.52 1040.2,602.6 C1042.08,601.68 1044.02,599.73 1045.9,598.8 C1047.78,597.87 1049.62,597 1051.5,597 C1053.38,597 1055.32,597.97 1057.2,598.8 C1059.08,599.63 1061.08,601.37 1062.8,602 C1064.52,602.63 1065.92,603.92 1067.5,602.6 C1069.08,601.28 1070.57,598.33 1072.3,594.1 C1074.03,589.87 1076.02,581.33 1077.9,577.2 C1079.78,573.07 1081.72,569.47 1083.6,569.3 C1085.48,569.13 1087.32,573.32 1089.2,576.2 C1091.08,579.08 1093.17,586.12 1094.9,586.6 C1096.63,587.08 1098.03,586.63 1099.6,579.1 C1101.17,571.57 1102.88,554.6 1104.3,541.4 C1105.72,528.2 1106.78,510.43 1108.1,499.9 C1109.42,489.37 1110.8,478.2 1112.2,478.2 C1113.6,478.2 1115,488.75 1116.5,499.9 C1118,511.05 1119.47,531.28 1121.2,545.1 C1122.93,558.92 1124.7,574 1126.9,582.8 C1129.1,591.6 1131.27,594.6 1134.4,597.9 C1137.53,601.2 1140.67,601.6 1145.7,602.6 C1150.73,603.6 1161.45,603.68 1164.6,603.9 L1203.1,604.3" fill="none" stroke="#222" stroke-width="1.6" stroke-linejoin="round"/>
<line x1="1087.1" y1="604.3" x2="1087.1" y2="597.3" stroke="#333" stroke-width="1.4" />
<line x1="1176.3" y1="604.3" x2="1176.3" y2="597.3" stroke="#333" stroke-width="1.4" />
<rect x="997.9" y="470" width="205.2" height="134.3" fill="none" stroke="#444" stroke-width="1.9"/>
<text x="998.6" y="626.6" font-size="16" text-anchor="middle" fill="#222" color="#222" >44.95</text>
<text x="1095" y="626.6" font-size="16" text-anchor="middle" fill="#222" color="#222" >45.00</text>
<text x="1192" y="626.6" font-size="16" text-anchor="middle" fill="#222" color="#222" >45.05</text>
<rect x="85.2" y="0.8" width="483.3" height="217.6" fill="none" stroke="#444" stroke-width="1.9"/>
<line x1="90.6" y1="0.8" x2="90.6" y2="218.4" stroke="#444" stroke-width="1.3" />
<line x1="85.2" y1="170.5" x2="93.4" y2="170.5" stroke="#444" stroke-width="1.5" />
<line x1="85.2" y1="122.1" x2="93.4" y2="122.1" stroke="#444" stroke-width="1.5" />
<line x1="85.2" y1="73.7" x2="93.4" y2="73.7" stroke="#444" stroke-width="1.5" />
<line x1="85.2" y1="25.3" x2="93.4" y2="25.3" stroke="#444" stroke-width="1.5" />
<line x1="85.2" y1="194.7" x2="90.6" y2="194.7" stroke="#444" stroke-width="1.5" />
<line x1="85.2" y1="146.3" x2="90.6" y2="146.3" stroke="#444" stroke-width="1.5" />
<line x1="85.2" y1="97.9" x2="90.6" y2="97.9" stroke="#444" stroke-width="1.5" />
<line x1="85.2" y1="49.5" x2="90.6" y2="49.5" stroke="#444" stroke-width="1.5" />
<text x="71.6" y="178.7" font-size="19" text-anchor="end" fill="#222" color="#222" >2x10</text>
<text x="71.9" y="167.6" font-size="11" text-anchor="start" fill="#222" color="#222" >4</text>
<text x="71.6" y="130.3" font-size="19" text-anchor="end" fill="#222" color="#222" >4x10</text>
<text x="71.9" y="119.2" font-size="11" text-anchor="start" fill="#222" color="#222" >4</text>
<text x="71.6" y="81.9" font-size="19" text-anchor="end" fill="#222" color="#222" >6x10</text>
<text x="71.9" y="70.8" font-size="11" text-anchor="start" fill="#222" color="#222" >4</text>
<text x="71.6" y="33.5" font-size="19" text-anchor="end" fill="#222" color="#222" >8x10</text>
<text x="71.9" y="22.4" font-size="11" text-anchor="start" fill="#222" color="#222" >4</text>
<rect x="761.4" y="0.8" width="482.9" height="217.6" fill="none" stroke="#444" stroke-width="1.9"/>
<line x1="766.8" y1="0.8" x2="766.8" y2="218.4" stroke="#444" stroke-width="1.3" />
<line x1="761.4" y1="170.5" x2="769.6" y2="170.5" stroke="#444" stroke-width="1.5" />
<line x1="761.4" y1="122.1" x2="769.6" y2="122.1" stroke="#444" stroke-width="1.5" />
<line x1="761.4" y1="73.7" x2="769.6" y2="73.7" stroke="#444" stroke-width="1.5" />
<line x1="761.4" y1="25.3" x2="769.6" y2="25.3" stroke="#444" stroke-width="1.5" />
<line x1="761.4" y1="194.7" x2="766.8" y2="194.7" stroke="#444" stroke-width="1.5" />
<line x1="761.4" y1="146.3" x2="766.8" y2="146.3" stroke="#444" stroke-width="1.5" />
<line x1="761.4" y1="97.9" x2="766.8" y2="97.9" stroke="#444" stroke-width="1.5" />
<line x1="761.4" y1="49.5" x2="766.8" y2="49.5" stroke="#444" stroke-width="1.5" />
<text x="747.8" y="178.7" font-size="19" text-anchor="end" fill="#222" color="#222" >2x10</text>
<text x="748.1" y="167.6" font-size="11" text-anchor="start" fill="#222" color="#222" >4</text>
<text x="747.8" y="130.3" font-size="19" text-anchor="end" fill="#222" color="#222" >4x10</text>
<text x="748.1" y="119.2" font-size="11" text-anchor="start" fill="#222" color="#222" >4</text>
<text x="747.8" y="81.9" font-size="19" text-anchor="end" fill="#222" color="#222" >6x10</text>
<text x="748.1" y="70.8" font-size="11" text-anchor="start" fill="#222" color="#222" >4</text>
<text x="747.8" y="33.5" font-size="19" text-anchor="end" fill="#222" color="#222" >8x10</text>
<text x="748.1" y="22.4" font-size="11" text-anchor="start" fill="#222" color="#222" >4</text>
<rect x="85.2" y="235.4" width="483.3" height="217.1" fill="none" stroke="#444" stroke-width="1.9"/>
<line x1="90.6" y1="235.4" x2="90.6" y2="452.5" stroke="#444" stroke-width="1.3" />
<line x1="85.2" y1="416.3" x2="93.4" y2="416.3" stroke="#444" stroke-width="1.5" />
<line x1="85.2" y1="380.1" x2="93.4" y2="380.1" stroke="#444" stroke-width="1.5" />
<line x1="85.2" y1="343.9" x2="93.4" y2="343.9" stroke="#444" stroke-width="1.5" />
<line x1="85.2" y1="307.7" x2="93.4" y2="307.7" stroke="#444" stroke-width="1.5" />
<line x1="85.2" y1="271.5" x2="93.4" y2="271.5" stroke="#444" stroke-width="1.5" />
<line x1="85.2" y1="235.3" x2="93.4" y2="235.3" stroke="#444" stroke-width="1.5" />
<line x1="85.2" y1="434.4" x2="90.6" y2="434.4" stroke="#444" stroke-width="1.5" />
<line x1="85.2" y1="398.2" x2="90.6" y2="398.2" stroke="#444" stroke-width="1.5" />
<line x1="85.2" y1="362" x2="90.6" y2="362" stroke="#444" stroke-width="1.5" />
<line x1="85.2" y1="325.8" x2="90.6" y2="325.8" stroke="#444" stroke-width="1.5" />
<line x1="85.2" y1="289.6" x2="90.6" y2="289.6" stroke="#444" stroke-width="1.5" />
<line x1="85.2" y1="253.4" x2="90.6" y2="253.4" stroke="#444" stroke-width="1.5" />
<text x="71.6" y="424.5" font-size="19" text-anchor="end" fill="#222" color="#222" >1x10</text>
<text x="71.9" y="413.4" font-size="11" text-anchor="start" fill="#222" color="#222" >4</text>
<text x="71.6" y="388.3" font-size="19" text-anchor="end" fill="#222" color="#222" >2x10</text>
<text x="71.9" y="377.2" font-size="11" text-anchor="start" fill="#222" color="#222" >4</text>
<text x="71.6" y="352.1" font-size="19" text-anchor="end" fill="#222" color="#222" >3x10</text>
<text x="71.9" y="341" font-size="11" text-anchor="start" fill="#222" color="#222" >4</text>
<text x="71.6" y="315.9" font-size="19" text-anchor="end" fill="#222" color="#222" >4x10</text>
<text x="71.9" y="304.8" font-size="11" text-anchor="start" fill="#222" color="#222" >4</text>
<text x="71.6" y="279.7" font-size="19" text-anchor="end" fill="#222" color="#222" >5x10</text>
<text x="71.9" y="268.6" font-size="11" text-anchor="start" fill="#222" color="#222" >4</text>
<text x="71.6" y="243.5" font-size="19" text-anchor="end" fill="#222" color="#222" >6x10</text>
<text x="71.9" y="232.4" font-size="11" text-anchor="start" fill="#222" color="#222" >4</text>
<rect x="761.4" y="235.4" width="482.9" height="217.1" fill="none" stroke="#444" stroke-width="1.9"/>
<line x1="766.8" y1="235.4" x2="766.8" y2="452.5" stroke="#444" stroke-width="1.3" />
<line x1="761.4" y1="416.3" x2="769.6" y2="416.3" stroke="#444" stroke-width="1.5" />
<line x1="761.4" y1="380.1" x2="769.6" y2="380.1" stroke="#444" stroke-width="1.5" />
<line x1="761.4" y1="343.9" x2="769.6" y2="343.9" stroke="#444" stroke-width="1.5" />
<line x1="761.4" y1="307.7" x2="769.6" y2="307.7" stroke="#444" stroke-width="1.5" />
<line x1="761.4" y1="271.5" x2="769.6" y2="271.5" stroke="#444" stroke-width="1.5" />
<line x1="761.4" y1="235.3" x2="769.6" y2="235.3" stroke="#444" stroke-width="1.5" />
<line x1="761.4" y1="434.4" x2="766.8" y2="434.4" stroke="#444" stroke-width="1.5" />
<line x1="761.4" y1="398.2" x2="766.8" y2="398.2" stroke="#444" stroke-width="1.5" />
<line x1="761.4" y1="362" x2="766.8" y2="362" stroke="#444" stroke-width="1.5" />
<line x1="761.4" y1="325.8" x2="766.8" y2="325.8" stroke="#444" stroke-width="1.5" />
<line x1="761.4" y1="289.6" x2="766.8" y2="289.6" stroke="#444" stroke-width="1.5" />
<line x1="761.4" y1="253.4" x2="766.8" y2="253.4" stroke="#444" stroke-width="1.5" />
<text x="747.8" y="424.5" font-size="19" text-anchor="end" fill="#222" color="#222" >1x10</text>
<text x="748.1" y="413.4" font-size="11" text-anchor="start" fill="#222" color="#222" >4</text>
<text x="747.8" y="388.3" font-size="19" text-anchor="end" fill="#222" color="#222" >2x10</text>
<text x="748.1" y="377.2" font-size="11" text-anchor="start" fill="#222" color="#222" >4</text>
<text x="747.8" y="352.1" font-size="19" text-anchor="end" fill="#222" color="#222" >3x10</text>
<text x="748.1" y="341" font-size="11" text-anchor="start" fill="#222" color="#222" >4</text>
<text x="747.8" y="315.9" font-size="19" text-anchor="end" fill="#222" color="#222" >4x10</text>
<text x="748.1" y="304.8" font-size="11" text-anchor="start" fill="#222" color="#222" >4</text>
<text x="747.8" y="279.7" font-size="19" text-anchor="end" fill="#222" color="#222" >5x10</text>
<text x="748.1" y="268.6" font-size="11" text-anchor="start" fill="#222" color="#222" >4</text>
<text x="747.8" y="243.5" font-size="19" text-anchor="end" fill="#222" color="#222" >6x10</text>
<text x="748.1" y="232.4" font-size="11" text-anchor="start" fill="#222" color="#222" >4</text>
<rect x="85.2" y="470" width="483.3" height="217.3" fill="none" stroke="#444" stroke-width="1.9"/>
<line x1="90.6" y1="470" x2="90.6" y2="687.3" stroke="#444" stroke-width="1.3" />
<line x1="85.2" y1="651.15" x2="93.4" y2="651.15" stroke="#444" stroke-width="1.5" />
<line x1="85.2" y1="615" x2="93.4" y2="615" stroke="#444" stroke-width="1.5" />
<line x1="85.2" y1="578.85" x2="93.4" y2="578.85" stroke="#444" stroke-width="1.5" />
<line x1="85.2" y1="542.7" x2="93.4" y2="542.7" stroke="#444" stroke-width="1.5" />
<line x1="85.2" y1="506.55" x2="93.4" y2="506.55" stroke="#444" stroke-width="1.5" />
<line x1="85.2" y1="470.4" x2="93.4" y2="470.4" stroke="#444" stroke-width="1.5" />
<line x1="85.2" y1="669.22" x2="90.6" y2="669.22" stroke="#444" stroke-width="1.5" />
<line x1="85.2" y1="633.07" x2="90.6" y2="633.07" stroke="#444" stroke-width="1.5" />
<line x1="85.2" y1="596.92" x2="90.6" y2="596.92" stroke="#444" stroke-width="1.5" />
<line x1="85.2" y1="560.77" x2="90.6" y2="560.77" stroke="#444" stroke-width="1.5" />
<line x1="85.2" y1="524.62" x2="90.6" y2="524.62" stroke="#444" stroke-width="1.5" />
<line x1="85.2" y1="488.47" x2="90.6" y2="488.47" stroke="#444" stroke-width="1.5" />
<text x="71.6" y="659.35" font-size="19" text-anchor="end" fill="#222" color="#222" >1x10</text>
<text x="71.9" y="648.25" font-size="11" text-anchor="start" fill="#222" color="#222" >4</text>
<text x="71.6" y="623.2" font-size="19" text-anchor="end" fill="#222" color="#222" >2x10</text>
<text x="71.9" y="612.1" font-size="11" text-anchor="start" fill="#222" color="#222" >4</text>
<text x="71.6" y="587.05" font-size="19" text-anchor="end" fill="#222" color="#222" >3x10</text>
<text x="71.9" y="575.95" font-size="11" text-anchor="start" fill="#222" color="#222" >4</text>
<text x="71.6" y="550.9" font-size="19" text-anchor="end" fill="#222" color="#222" >4x10</text>
<text x="71.9" y="539.8" font-size="11" text-anchor="start" fill="#222" color="#222" >4</text>
<text x="71.6" y="514.75" font-size="19" text-anchor="end" fill="#222" color="#222" >5x10</text>
<text x="71.9" y="503.65" font-size="11" text-anchor="start" fill="#222" color="#222" >4</text>
<text x="71.6" y="478.6" font-size="19" text-anchor="end" fill="#222" color="#222" >6x10</text>
<text x="71.9" y="467.5" font-size="11" text-anchor="start" fill="#222" color="#222" >4</text>
<rect x="761.4" y="470" width="482.9" height="217.3" fill="none" stroke="#444" stroke-width="1.9"/>
<line x1="766.8" y1="470" x2="766.8" y2="687.3" stroke="#444" stroke-width="1.3" />
<line x1="761.4" y1="651.15" x2="769.6" y2="651.15" stroke="#444" stroke-width="1.5" />
<line x1="761.4" y1="615" x2="769.6" y2="615" stroke="#444" stroke-width="1.5" />
<line x1="761.4" y1="578.85" x2="769.6" y2="578.85" stroke="#444" stroke-width="1.5" />
<line x1="761.4" y1="542.7" x2="769.6" y2="542.7" stroke="#444" stroke-width="1.5" />
<line x1="761.4" y1="506.55" x2="769.6" y2="506.55" stroke="#444" stroke-width="1.5" />
<line x1="761.4" y1="470.4" x2="769.6" y2="470.4" stroke="#444" stroke-width="1.5" />
<line x1="761.4" y1="669.22" x2="766.8" y2="669.22" stroke="#444" stroke-width="1.5" />
<line x1="761.4" y1="633.07" x2="766.8" y2="633.07" stroke="#444" stroke-width="1.5" />
<line x1="761.4" y1="596.92" x2="766.8" y2="596.92" stroke="#444" stroke-width="1.5" />
<line x1="761.4" y1="560.77" x2="766.8" y2="560.77" stroke="#444" stroke-width="1.5" />
<line x1="761.4" y1="524.62" x2="766.8" y2="524.62" stroke="#444" stroke-width="1.5" />
<line x1="761.4" y1="488.47" x2="766.8" y2="488.47" stroke="#444" stroke-width="1.5" />
<text x="747.8" y="659.35" font-size="19" text-anchor="end" fill="#222" color="#222" >1x10</text>
<text x="748.1" y="648.25" font-size="11" text-anchor="start" fill="#222" color="#222" >5</text>
<text x="747.8" y="623.2" font-size="19" text-anchor="end" fill="#222" color="#222" >2x10</text>
<text x="748.1" y="612.1" font-size="11" text-anchor="start" fill="#222" color="#222" >5</text>
<text x="747.8" y="587.05" font-size="19" text-anchor="end" fill="#222" color="#222" >3x10</text>
<text x="748.1" y="575.95" font-size="11" text-anchor="start" fill="#222" color="#222" >5</text>
<text x="747.8" y="550.9" font-size="19" text-anchor="end" fill="#222" color="#222" >4x10</text>
<text x="748.1" y="539.8" font-size="11" text-anchor="start" fill="#222" color="#222" >5</text>
<text x="747.8" y="514.75" font-size="19" text-anchor="end" fill="#222" color="#222" >5x10</text>
<text x="748.1" y="503.65" font-size="11" text-anchor="start" fill="#222" color="#222" >5</text>
<text x="747.8" y="478.6" font-size="19" text-anchor="end" fill="#222" color="#222" >6x10</text>
<text x="748.1" y="467.5" font-size="11" text-anchor="start" fill="#222" color="#222" >5</text>
<line x1="84.4" y1="704.9" x2="569.3" y2="704.9" stroke="#444" stroke-width="1.8" />
<line x1="85.2" y1="704.9" x2="85.2" y2="697.6" stroke="#444" stroke-width="1.4" />
<line x1="93.25" y1="704.9" x2="93.25" y2="701.2" stroke="#444" stroke-width="1.4" />
<line x1="101.31" y1="704.9" x2="101.31" y2="701.2" stroke="#444" stroke-width="1.4" />
<line x1="109.37" y1="704.9" x2="109.37" y2="701.2" stroke="#444" stroke-width="1.4" />
<line x1="117.42" y1="704.9" x2="117.42" y2="701.2" stroke="#444" stroke-width="1.4" />
<line x1="125.47" y1="704.9" x2="125.47" y2="701.2" stroke="#444" stroke-width="1.4" />
<line x1="133.53" y1="704.9" x2="133.53" y2="697.6" stroke="#444" stroke-width="1.4" />
<line x1="141.59" y1="704.9" x2="141.59" y2="701.2" stroke="#444" stroke-width="1.4" />
<line x1="149.64" y1="704.9" x2="149.64" y2="701.2" stroke="#444" stroke-width="1.4" />
<line x1="157.69" y1="704.9" x2="157.69" y2="701.2" stroke="#444" stroke-width="1.4" />
<line x1="165.75" y1="704.9" x2="165.75" y2="701.2" stroke="#444" stroke-width="1.4" />
<line x1="173.81" y1="704.9" x2="173.81" y2="701.2" stroke="#444" stroke-width="1.4" />
<line x1="181.86" y1="704.9" x2="181.86" y2="697.6" stroke="#444" stroke-width="1.4" />
<line x1="189.92" y1="704.9" x2="189.92" y2="701.2" stroke="#444" stroke-width="1.4" />
<line x1="197.97" y1="704.9" x2="197.97" y2="701.2" stroke="#444" stroke-width="1.4" />
<line x1="206.03" y1="704.9" x2="206.03" y2="701.2" stroke="#444" stroke-width="1.4" />
<line x1="214.08" y1="704.9" x2="214.08" y2="701.2" stroke="#444" stroke-width="1.4" />
<line x1="222.13" y1="704.9" x2="222.13" y2="701.2" stroke="#444" stroke-width="1.4" />
<line x1="230.19" y1="704.9" x2="230.19" y2="697.6" stroke="#444" stroke-width="1.4" />
<line x1="238.25" y1="704.9" x2="238.25" y2="701.2" stroke="#444" stroke-width="1.4" />
<line x1="246.3" y1="704.9" x2="246.3" y2="701.2" stroke="#444" stroke-width="1.4" />
<line x1="254.36" y1="704.9" x2="254.36" y2="701.2" stroke="#444" stroke-width="1.4" />
<line x1="262.41" y1="704.9" x2="262.41" y2="701.2" stroke="#444" stroke-width="1.4" />
<line x1="270.46" y1="704.9" x2="270.46" y2="701.2" stroke="#444" stroke-width="1.4" />
<line x1="278.52" y1="704.9" x2="278.52" y2="697.6" stroke="#444" stroke-width="1.4" />
<line x1="286.57" y1="704.9" x2="286.57" y2="701.2" stroke="#444" stroke-width="1.4" />
<line x1="294.63" y1="704.9" x2="294.63" y2="701.2" stroke="#444" stroke-width="1.4" />
<line x1="302.69" y1="704.9" x2="302.69" y2="701.2" stroke="#444" stroke-width="1.4" />
<line x1="310.74" y1="704.9" x2="310.74" y2="701.2" stroke="#444" stroke-width="1.4" />
<line x1="318.8" y1="704.9" x2="318.8" y2="701.2" stroke="#444" stroke-width="1.4" />
<line x1="326.85" y1="704.9" x2="326.85" y2="697.6" stroke="#444" stroke-width="1.4" />
<line x1="334.91" y1="704.9" x2="334.91" y2="701.2" stroke="#444" stroke-width="1.4" />
<line x1="342.96" y1="704.9" x2="342.96" y2="701.2" stroke="#444" stroke-width="1.4" />
<line x1="351.01" y1="704.9" x2="351.01" y2="701.2" stroke="#444" stroke-width="1.4" />
<line x1="359.07" y1="704.9" x2="359.07" y2="701.2" stroke="#444" stroke-width="1.4" />
<line x1="367.12" y1="704.9" x2="367.12" y2="701.2" stroke="#444" stroke-width="1.4" />
<line x1="375.18" y1="704.9" x2="375.18" y2="697.6" stroke="#444" stroke-width="1.4" />
<line x1="383.24" y1="704.9" x2="383.24" y2="701.2" stroke="#444" stroke-width="1.4" />
<line x1="391.29" y1="704.9" x2="391.29" y2="701.2" stroke="#444" stroke-width="1.4" />
<line x1="399.35" y1="704.9" x2="399.35" y2="701.2" stroke="#444" stroke-width="1.4" />
<line x1="407.4" y1="704.9" x2="407.4" y2="701.2" stroke="#444" stroke-width="1.4" />
<line x1="415.45" y1="704.9" x2="415.45" y2="701.2" stroke="#444" stroke-width="1.4" />
<line x1="423.51" y1="704.9" x2="423.51" y2="697.6" stroke="#444" stroke-width="1.4" />
<line x1="431.56" y1="704.9" x2="431.56" y2="701.2" stroke="#444" stroke-width="1.4" />
<line x1="439.62" y1="704.9" x2="439.62" y2="701.2" stroke="#444" stroke-width="1.4" />
<line x1="447.68" y1="704.9" x2="447.68" y2="701.2" stroke="#444" stroke-width="1.4" />
<line x1="455.73" y1="704.9" x2="455.73" y2="701.2" stroke="#444" stroke-width="1.4" />
<line x1="463.79" y1="704.9" x2="463.79" y2="701.2" stroke="#444" stroke-width="1.4" />
<line x1="471.84" y1="704.9" x2="471.84" y2="697.6" stroke="#444" stroke-width="1.4" />
<line x1="479.89" y1="704.9" x2="479.89" y2="701.2" stroke="#444" stroke-width="1.4" />
<line x1="487.95" y1="704.9" x2="487.95" y2="701.2" stroke="#444" stroke-width="1.4" />
<line x1="496" y1="704.9" x2="496" y2="701.2" stroke="#444" stroke-width="1.4" />
<line x1="504.06" y1="704.9" x2="504.06" y2="701.2" stroke="#444" stroke-width="1.4" />
<line x1="512.12" y1="704.9" x2="512.12" y2="701.2" stroke="#444" stroke-width="1.4" />
<line x1="520.17" y1="704.9" x2="520.17" y2="697.6" stroke="#444" stroke-width="1.4" />
<line x1="528.23" y1="704.9" x2="528.23" y2="701.2" stroke="#444" stroke-width="1.4" />
<line x1="536.28" y1="704.9" x2="536.28" y2="701.2" stroke="#444" stroke-width="1.4" />
<line x1="544.34" y1="704.9" x2="544.34" y2="701.2" stroke="#444" stroke-width="1.4" />
<line x1="552.39" y1="704.9" x2="552.39" y2="701.2" stroke="#444" stroke-width="1.4" />
<line x1="560.45" y1="704.9" x2="560.45" y2="701.2" stroke="#444" stroke-width="1.4" />
<line x1="568.5" y1="704.9" x2="568.5" y2="697.6" stroke="#444" stroke-width="1.4" />
<text x="85.2" y="726.9" font-size="19" text-anchor="middle" fill="#222" color="#222" >0</text>
<text x="133.53" y="726.9" font-size="19" text-anchor="middle" fill="#222" color="#222" >10</text>
<text x="181.86" y="726.9" font-size="19" text-anchor="middle" fill="#222" color="#222" >20</text>
<text x="230.19" y="726.9" font-size="19" text-anchor="middle" fill="#222" color="#222" >30</text>
<text x="278.52" y="726.9" font-size="19" text-anchor="middle" fill="#222" color="#222" >40</text>
<text x="326.85" y="726.9" font-size="19" text-anchor="middle" fill="#222" color="#222" >50</text>
<text x="375.18" y="726.9" font-size="19" text-anchor="middle" fill="#222" color="#222" >60</text>
<text x="423.51" y="726.9" font-size="19" text-anchor="middle" fill="#222" color="#222" >70</text>
<text x="471.84" y="726.9" font-size="19" text-anchor="middle" fill="#222" color="#222" >80</text>
<text x="520.17" y="726.9" font-size="19" text-anchor="middle" fill="#222" color="#222" >90</text>
<text x="568.5" y="726.9" font-size="19" text-anchor="middle" fill="#222" color="#222" >100</text>
<text x="318.6" y="756.3" font-size="21" text-anchor="middle" fill="#222" color="#222" font-style="italic">m / z</text>
<line x1="760.6" y1="704.9" x2="1245.1" y2="704.9" stroke="#444" stroke-width="1.8" />
<line x1="761.4" y1="704.9" x2="761.4" y2="697.6" stroke="#444" stroke-width="1.4" />
<line x1="769.45" y1="704.9" x2="769.45" y2="701.2" stroke="#444" stroke-width="1.4" />
<line x1="777.5" y1="704.9" x2="777.5" y2="701.2" stroke="#444" stroke-width="1.4" />
<line x1="785.54" y1="704.9" x2="785.54" y2="701.2" stroke="#444" stroke-width="1.4" />
<line x1="793.59" y1="704.9" x2="793.59" y2="701.2" stroke="#444" stroke-width="1.4" />
<line x1="801.64" y1="704.9" x2="801.64" y2="701.2" stroke="#444" stroke-width="1.4" />
<line x1="809.69" y1="704.9" x2="809.69" y2="697.6" stroke="#444" stroke-width="1.4" />
<line x1="817.74" y1="704.9" x2="817.74" y2="701.2" stroke="#444" stroke-width="1.4" />
<line x1="825.79" y1="704.9" x2="825.79" y2="701.2" stroke="#444" stroke-width="1.4" />
<line x1="833.83" y1="704.9" x2="833.83" y2="701.2" stroke="#444" stroke-width="1.4" />
<line x1="841.88" y1="704.9" x2="841.88" y2="701.2" stroke="#444" stroke-width="1.4" />
<line x1="849.93" y1="704.9" x2="849.93" y2="701.2" stroke="#444" stroke-width="1.4" />
<line x1="857.98" y1="704.9" x2="857.98" y2="697.6" stroke="#444" stroke-width="1.4" />
<line x1="866.03" y1="704.9" x2="866.03" y2="701.2" stroke="#444" stroke-width="1.4" />
<line x1="874.08" y1="704.9" x2="874.08" y2="701.2" stroke="#444" stroke-width="1.4" />
<line x1="882.12" y1="704.9" x2="882.12" y2="701.2" stroke="#444" stroke-width="1.4" />
<line x1="890.17" y1="704.9" x2="890.17" y2="701.2" stroke="#444" stroke-width="1.4" />
<line x1="898.22" y1="704.9" x2="898.22" y2="701.2" stroke="#444" stroke-width="1.4" />
<line x1="906.27" y1="704.9" x2="906.27" y2="697.6" stroke="#444" stroke-width="1.4" />
<line x1="914.32" y1="704.9" x2="914.32" y2="701.2" stroke="#444" stroke-width="1.4" />
<line x1="922.37" y1="704.9" x2="922.37" y2="701.2" stroke="#444" stroke-width="1.4" />
<line x1="930.41" y1="704.9" x2="930.41" y2="701.2" stroke="#444" stroke-width="1.4" />
<line x1="938.46" y1="704.9" x2="938.46" y2="701.2" stroke="#444" stroke-width="1.4" />
<line x1="946.51" y1="704.9" x2="946.51" y2="701.2" stroke="#444" stroke-width="1.4" />
<line x1="954.56" y1="704.9" x2="954.56" y2="697.6" stroke="#444" stroke-width="1.4" />
<line x1="962.61" y1="704.9" x2="962.61" y2="701.2" stroke="#444" stroke-width="1.4" />
<line x1="970.66" y1="704.9" x2="970.66" y2="701.2" stroke="#444" stroke-width="1.4" />
<line x1="978.7" y1="704.9" x2="978.7" y2="701.2" stroke="#444" stroke-width="1.4" />
<line x1="986.75" y1="704.9" x2="986.75" y2="701.2" stroke="#444" stroke-width="1.4" />
<line x1="994.8" y1="704.9" x2="994.8" y2="701.2" stroke="#444" stroke-width="1.4" />
<line x1="1002.85" y1="704.9" x2="1002.85" y2="697.6" stroke="#444" stroke-width="1.4" />
<line x1="1010.9" y1="704.9" x2="1010.9" y2="701.2" stroke="#444" stroke-width="1.4" />
<line x1="1018.95" y1="704.9" x2="1018.95" y2="701.2" stroke="#444" stroke-width="1.4" />
<line x1="1026.99" y1="704.9" x2="1026.99" y2="701.2" stroke="#444" stroke-width="1.4" />
<line x1="1035.04" y1="704.9" x2="1035.04" y2="701.2" stroke="#444" stroke-width="1.4" />
<line x1="1043.09" y1="704.9" x2="1043.09" y2="701.2" stroke="#444" stroke-width="1.4" />
<line x1="1051.14" y1="704.9" x2="1051.14" y2="697.6" stroke="#444" stroke-width="1.4" />
<line x1="1059.19" y1="704.9" x2="1059.19" y2="701.2" stroke="#444" stroke-width="1.4" />
<line x1="1067.24" y1="704.9" x2="1067.24" y2="701.2" stroke="#444" stroke-width="1.4" />
<line x1="1075.28" y1="704.9" x2="1075.28" y2="701.2" stroke="#444" stroke-width="1.4" />
<line x1="1083.33" y1="704.9" x2="1083.33" y2="701.2" stroke="#444" stroke-width="1.4" />
<line x1="1091.38" y1="704.9" x2="1091.38" y2="701.2" stroke="#444" stroke-width="1.4" />
<line x1="1099.43" y1="704.9" x2="1099.43" y2="697.6" stroke="#444" stroke-width="1.4" />
<line x1="1107.48" y1="704.9" x2="1107.48" y2="701.2" stroke="#444" stroke-width="1.4" />
<line x1="1115.53" y1="704.9" x2="1115.53" y2="701.2" stroke="#444" stroke-width="1.4" />
<line x1="1123.58" y1="704.9" x2="1123.58" y2="701.2" stroke="#444" stroke-width="1.4" />
<line x1="1131.62" y1="704.9" x2="1131.62" y2="701.2" stroke="#444" stroke-width="1.4" />
<line x1="1139.67" y1="704.9" x2="1139.67" y2="701.2" stroke="#444" stroke-width="1.4" />
<line x1="1147.72" y1="704.9" x2="1147.72" y2="697.6" stroke="#444" stroke-width="1.4" />
<line x1="1155.77" y1="704.9" x2="1155.77" y2="701.2" stroke="#444" stroke-width="1.4" />
<line x1="1163.82" y1="704.9" x2="1163.82" y2="701.2" stroke="#444" stroke-width="1.4" />
<line x1="1171.87" y1="704.9" x2="1171.87" y2="701.2" stroke="#444" stroke-width="1.4" />
<line x1="1179.91" y1="704.9" x2="1179.91" y2="701.2" stroke="#444" stroke-width="1.4" />
<line x1="1187.96" y1="704.9" x2="1187.96" y2="701.2" stroke="#444" stroke-width="1.4" />
<line x1="1196.01" y1="704.9" x2="1196.01" y2="697.6" stroke="#444" stroke-width="1.4" />
<line x1="1204.06" y1="704.9" x2="1204.06" y2="701.2" stroke="#444" stroke-width="1.4" />
<line x1="1212.11" y1="704.9" x2="1212.11" y2="701.2" stroke="#444" stroke-width="1.4" />
<line x1="1220.15" y1="704.9" x2="1220.15" y2="701.2" stroke="#444" stroke-width="1.4" />
<line x1="1228.2" y1="704.9" x2="1228.2" y2="701.2" stroke="#444" stroke-width="1.4" />
<line x1="1236.25" y1="704.9" x2="1236.25" y2="701.2" stroke="#444" stroke-width="1.4" />
<line x1="1244.3" y1="704.9" x2="1244.3" y2="697.6" stroke="#444" stroke-width="1.4" />
<text x="761.4" y="726.9" font-size="19" text-anchor="middle" fill="#222" color="#222" >0</text>
<text x="809.69" y="726.9" font-size="19" text-anchor="middle" fill="#222" color="#222" >10</text>
<text x="857.98" y="726.9" font-size="19" text-anchor="middle" fill="#222" color="#222" >20</text>
<text x="906.27" y="726.9" font-size="19" text-anchor="middle" fill="#222" color="#222" >30</text>
<text x="954.56" y="726.9" font-size="19" text-anchor="middle" fill="#222" color="#222" >40</text>
<text x="1002.85" y="726.9" font-size="19" text-anchor="middle" fill="#222" color="#222" >50</text>
<text x="1051.14" y="726.9" font-size="19" text-anchor="middle" fill="#222" color="#222" >60</text>
<text x="1099.43" y="726.9" font-size="19" text-anchor="middle" fill="#222" color="#222" >70</text>
<text x="1147.72" y="726.9" font-size="19" text-anchor="middle" fill="#222" color="#222" >80</text>
<text x="1196.01" y="726.9" font-size="19" text-anchor="middle" fill="#222" color="#222" >90</text>
<text x="1244.3" y="726.9" font-size="19" text-anchor="middle" fill="#222" color="#222" >100</text>
<text x="994.3" y="756.3" font-size="21" text-anchor="middle" fill="#222" color="#222" font-style="italic">m / z</text>
<circle cx="587.2" cy="12.5" r="9.7" fill="none" stroke="#444" stroke-width="1.8"/>
<text x="587.2" y="17.4" font-size="18" text-anchor="middle" fill="#222" color="#222" >a</text>
<circle cx="1259.5" cy="13.2" r="9.7" fill="none" stroke="#444" stroke-width="1.8"/>
<text x="1259.5" y="18.1" font-size="18" text-anchor="middle" fill="#222" color="#222" >b</text>
<circle cx="587.2" cy="245" r="9.7" fill="none" stroke="#444" stroke-width="1.8"/>
<text x="587.2" y="249.9" font-size="18" text-anchor="middle" fill="#222" color="#222" >c</text>
<circle cx="1259.5" cy="245" r="9.7" fill="none" stroke="#444" stroke-width="1.8"/>
<text x="1259.5" y="249.9" font-size="18" text-anchor="middle" fill="#222" color="#222" >d</text>
<circle cx="587.2" cy="479.5" r="9.7" fill="none" stroke="#444" stroke-width="1.8"/>
<text x="587.2" y="484.4" font-size="18" text-anchor="middle" fill="#222" color="#222" >e</text>
<circle cx="1259.6" cy="479.8" r="9.7" fill="none" stroke="#444" stroke-width="1.8"/>
<text x="1259.6" y="484.7" font-size="18" text-anchor="middle" fill="#222" color="#222" >f</text>
<text x="0" y="0" font-size="21.3" text-anchor="middle" fill="#222" color="#222" transform="translate(596.6,126.2) rotate(-90)">Li-acetate</text>
<text x="0" y="0" font-size="21.3" text-anchor="middle" fill="#222" color="#222" transform="translate(1271.1,124) rotate(-90)">Li-formate</text>
<text x="0" y="0" font-size="20.8" text-anchor="middle" fill="#222" color="#222" transform="translate(596.6,364.2) rotate(-90)">Li- methoxide</text>
<text x="0" y="0" font-size="20.8" text-anchor="middle" fill="#222" color="#222" transform="translate(1271.1,342.3) rotate(-90)">poly dioxolane</text>
<text x="0" y="0" font-size="21.6" text-anchor="middle" fill="#222" color="#222" transform="translate(596.6,599.7) rotate(-90)">Li-ethoxide</text>
<text x="0" y="0" font-size="21.3" text-anchor="middle" fill="#222" color="#222" transform="translate(1271.1,575.4) rotate(-90)">2h DOL galvano.</text>
<text x="0" y="0" font-size="21" text-anchor="middle" fill="#222" color="#222" transform="translate(15.6,98) rotate(-90)"><tspan font-style="italic">I</tspan> / counts</text>
<text x="0" y="0" font-size="21" text-anchor="middle" fill="#222" color="#222" transform="translate(15.6,331.3) rotate(-90)"><tspan font-style="italic">I</tspan> / counts</text>
<text x="0" y="0" font-size="21" text-anchor="middle" fill="#222" color="#222" transform="translate(15.6,567) rotate(-90)"><tspan font-style="italic">I</tspan> / counts</text>
<text x="0" y="0" font-size="21" text-anchor="middle" fill="#222" color="#222" transform="translate(691.2,97.5) rotate(-90)"><tspan font-style="italic">I</tspan> / counts</text>
<text x="0" y="0" font-size="21" text-anchor="middle" fill="#222" color="#222" transform="translate(691.2,331.5) rotate(-90)"><tspan font-style="italic">I</tspan> / counts</text>
<text x="0" y="0" font-size="21" text-anchor="middle" fill="#222" color="#222" transform="translate(691.2,567) rotate(-90)"><tspan font-style="italic">I</tspan> / counts</text>
<text x="197" y="54.6" font-size="16.5" text-anchor="start" fill="#222" color="#222" >H</text>
<text x="208" y="58.2" font-size="11" text-anchor="start" fill="#222" color="#222" >3</text>
<text x="215.8" y="54.6" font-size="17.2" text-anchor="start" fill="#222" color="#222" >C</text>
<line x1="229.8" y1="49.6" x2="245" y2="49.6" stroke="#222" stroke-width="1.9" />
<line x1="243.9" y1="48.6" x2="251.8" y2="35" stroke="#222" stroke-width="1.9" />
<line x1="248.3" y1="50.2" x2="256.6" y2="37.6" stroke="#222" stroke-width="1.9" />
<line x1="246.6" y1="50.4" x2="254.4" y2="62.4" stroke="#222" stroke-width="1.9" />
<text x="259.4" y="34.2" font-size="16" text-anchor="middle" fill="#222" color="#222" >O</text>
<text x="259.4" y="76.2" font-size="16" text-anchor="middle" fill="#222" color="#222" >O</text>
<line x1="267" y1="64.8" x2="273.4" y2="64.8" stroke="#222" stroke-width="1.3" />
<text x="277.4" y="76.2" font-size="17" text-anchor="start" fill="#222" color="#222" >Li</text>
<line x1="292.3" y1="65.3" x2="296.7" y2="65.3" stroke="#222" stroke-width="1.2" />
<line x1="294.5" y1="63.1" x2="294.5" y2="67.5" stroke="#222" stroke-width="1.2" />
<text x="865.7" y="55.1" font-size="16" text-anchor="start" fill="#222" color="#222" >H</text>
<line x1="880" y1="49.3" x2="895.6" y2="49.3" stroke="#222" stroke-width="1.9" />
<line x1="894.6" y1="48" x2="902.4" y2="34.6" stroke="#222" stroke-width="1.9" />
<line x1="898.8" y1="50" x2="907.8" y2="37.2" stroke="#222" stroke-width="1.9" />
<line x1="896.9" y1="50.6" x2="905" y2="62.2" stroke="#222" stroke-width="1.9" />
<text x="909.8" y="34.3" font-size="16" text-anchor="middle" fill="#222" color="#222" >O</text>
<text x="909.4" y="76.3" font-size="16" text-anchor="middle" fill="#222" color="#222" >O</text>
<line x1="917.6" y1="64.9" x2="923.8" y2="64.9" stroke="#222" stroke-width="1.3" />
<text x="928" y="76.3" font-size="17" text-anchor="start" fill="#222" color="#222" >Li</text>
<line x1="942.9" y1="64.9" x2="947.3" y2="64.9" stroke="#222" stroke-width="1.2" />
<line x1="945.1" y1="62.7" x2="945.1" y2="67.1" stroke="#222" stroke-width="1.2" />
<text x="189.6" y="275.8" font-size="17" text-anchor="start" fill="#222" color="#222" >H</text>
<text x="201.4" y="279.1" font-size="11" text-anchor="start" fill="#222" color="#222" >3</text>
<text x="208.2" y="275.8" font-size="17" text-anchor="start" fill="#222" color="#222" >C</text>
<line x1="221.3" y1="265.9" x2="228.6" y2="261.8" stroke="#222" stroke-width="1.9" />
<text x="236.2" y="263.6" font-size="17" text-anchor="middle" fill="#222" color="#222" >O</text>
<line x1="244.4" y1="251.4" x2="250.4" y2="251.4" stroke="#222" stroke-width="1.3" />
<text x="253.4" y="263.5" font-size="17.5" text-anchor="start" fill="#222" color="#222" >Li</text>
<line x1="269" y1="251.3" x2="273.4" y2="251.3" stroke="#222" stroke-width="1.2" />
<line x1="271.2" y1="249.1" x2="271.2" y2="253.5" stroke="#222" stroke-width="1.2" />
<text x="189.6" y="513.8" font-size="17" text-anchor="start" fill="#222" color="#222" >H</text>
<text x="201.8" y="517.2" font-size="11" text-anchor="start" fill="#222" color="#222" >5</text>
<text x="208.2" y="513.8" font-size="17" text-anchor="start" fill="#222" color="#222" >C</text>
<text x="220.8" y="517.2" font-size="11" text-anchor="start" fill="#222" color="#222" >2</text>
<line x1="222.8" y1="503.8" x2="229" y2="500.2" stroke="#222" stroke-width="1.9" />
<text x="236.6" y="502.2" font-size="17" text-anchor="middle" fill="#222" color="#222" >O</text>
<line x1="244.4" y1="489.8" x2="250.4" y2="489.8" stroke="#222" stroke-width="1.3" />
<text x="253.4" y="502.1" font-size="17.5" text-anchor="start" fill="#222" color="#222" >Li</text>
<line x1="269" y1="489.6" x2="273.4" y2="489.6" stroke="#222" stroke-width="1.2" />
<line x1="271.2" y1="487.4" x2="271.2" y2="491.8" stroke="#222" stroke-width="1.2" />
<text x="858.6" y="251.4" font-size="12.5" text-anchor="start" fill="#555" color="#555" >F</text>
<line x1="867.6" y1="240" x2="870.6" y2="240" stroke="#555" stroke-width="1.0" />
<polyline points="863.5,269.1 884,282 898.4,274.2" fill="none" stroke="#222" stroke-width="1.9" stroke-linejoin="round"/>
<polyline points="914.2,274.2 927.3,282 949.6,269.1 963.4,276.9" fill="none" stroke="#222" stroke-width="1.9" stroke-linejoin="round"/>
<line x1="977.6" y1="276.9" x2="992.4" y2="269.1" stroke="#222" stroke-width="1.9" />
<text x="906.3" y="276" font-size="17" text-anchor="middle" fill="#222" color="#222" >O</text>
<text x="970.5" y="288.4" font-size="17" text-anchor="middle" fill="#222" color="#222" >O</text>
<polyline points="879.6,252.8 877.2,252.8 877.2,298.8 879.6,298.8" fill="none" stroke="#222" stroke-width="1.9"/>
<polyline points="982.4,252.8 984.8,252.8 984.8,298.8 982.4,298.8" fill="none" stroke="#222" stroke-width="1.9"/>
<text x="986.8" y="303.2" font-size="16" text-anchor="start" fill="#222" color="#222" >n</text>
<text x="378" y="176.6" font-size="12.5" text-anchor="start" fill="#555" color="#555" textLength="18.2" lengthAdjust="spacingAndGlyphs">CH</text>
<text x="396.6" y="178.8" font-size="6.5" text-anchor="start" fill="#555" color="#555" >3</text>
<text x="400.2" y="176.6" font-size="12.5" text-anchor="start" fill="#555" color="#555" textLength="31" lengthAdjust="spacingAndGlyphs">COO</text>
<line x1="432.2" y1="166.2" x2="434.8" y2="166.2" stroke="#555" stroke-width="1.0" />
<text x="958" y="133.4" font-size="14" text-anchor="start" fill="#555" color="#555" >CHO</text>
<text x="989" y="136.4" font-size="7" text-anchor="start" fill="#555" color="#555" >2</text>
<line x1="989.6" y1="123" x2="992.4" y2="123" stroke="#555" stroke-width="1.0" />
<text x="961.2" y="359.6" font-size="14" text-anchor="start" fill="#555" color="#555" >CHO</text>
<text x="992" y="362.6" font-size="7" text-anchor="start" fill="#555" color="#555" >2</text>
<line x1="992.4" y1="347.8" x2="995" y2="347.8" stroke="#555" stroke-width="1.0" />
<text x="1067" y="411.2" font-size="14" text-anchor="start" fill="#555" color="#555" >SO</text>
<text x="1086.6" y="414" font-size="7" text-anchor="start" fill="#555" color="#555" >2</text>
<line x1="1087.6" y1="399.8" x2="1090.6" y2="399.8" stroke="#555" stroke-width="1.0" />
<text x="1096" y="416.4" font-size="14" text-anchor="start" fill="#555" color="#555" >CF</text>
<text x="1113.6" y="419" font-size="7" text-anchor="start" fill="#555" color="#555" >3</text>
<line x1="1116.6" y1="404.8" x2="1119.4" y2="404.8" stroke="#555" stroke-width="0.9" />
<line x1="1118" y1="403.4" x2="1118" y2="406.2" stroke="#555" stroke-width="0.9" />
<text x="1150.4" y="409.2" font-size="14" text-anchor="start" fill="#555" color="#555" >SO</text>
<text x="1169.6" y="412" font-size="7" text-anchor="start" fill="#555" color="#555" >3</text>
<line x1="1170.4" y1="398.8" x2="1173.4" y2="398.8" stroke="#555" stroke-width="1.0" />
<text x="285.4" y="654.6" font-size="13.5" text-anchor="start" fill="#555" color="#555" >C</text>
<text x="294.4" y="657.6" font-size="6.5" text-anchor="start" fill="#555" color="#555" >2</text>
<text x="298.2" y="654.6" font-size="13.5" text-anchor="start" fill="#555" color="#555" >H</text>
<text x="307.8" y="657.6" font-size="6.5" text-anchor="start" fill="#555" color="#555" >3</text>
<text x="311.4" y="654.6" font-size="13.5" text-anchor="start" fill="#555" color="#555" >O</text>
<line x1="322.8" y1="642.9" x2="325.6" y2="642.9" stroke="#555" stroke-width="1.0" />
<text x="1053.4" y="528.2" font-size="18" text-anchor="start" fill="#333" color="#333" >poly.</text>
<text x="1053.4" y="562.2" font-size="18" text-anchor="start" fill="#333" color="#333" >CHO</text>
<text x="1093" y="566" font-size="10" text-anchor="start" fill="#333" color="#333" >2</text>
<text x="1127" y="497.2" font-size="18" text-anchor="start" fill="#333" color="#333" >salt</text>
<text x="1127" y="532.2" font-size="18" text-anchor="start" fill="#333" color="#333" >CHO</text>
<text x="1166.6" y="536" font-size="10" text-anchor="start" fill="#333" color="#333" >2</text>
</g>
</svg></body></html>
